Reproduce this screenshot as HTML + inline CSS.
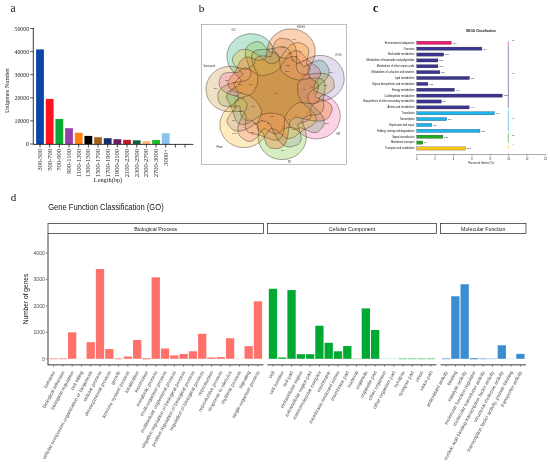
<!DOCTYPE html>
<html><head><meta charset="utf-8"><title>Figure</title>
<style>html,body{margin:0;padding:0;background:#fff}svg{display:block}text{white-space:pre}</style>
</head><body>
<svg width="550" height="467" viewBox="0 0 550 467">
<rect width="550" height="467" fill="#fff"/>
<g id="pb">
<rect x="201.5" y="24.3" width="145" height="140" fill="#fff" stroke="#888" stroke-width="0.55"/>
<path d="M237.9 37.4L239.1 36.7L240.4 36.1L241.6 35.6L242.9 35.1L244.3 34.7L245.6 34.4L247.0 34.1L248.3 33.8L249.8 33.7L251.2 33.7L252.7 33.8L254.1 33.9L255.6 34.2L257.0 34.5L258.5 34.8L259.9 35.3L261.4 35.9L262.8 36.6L264.2 37.4L265.6 38.3L267.0 39.4L268.3 40.6L269.6 42.0L270.9 43.6L272.1 45.5L273.2 47.5L274.3 50.1L275.3 52.4L276.1 54.0L276.9 55.3L277.7 55.9L278.4 56.5L279.2 56.9L279.9 57.1L280.7 57.4L281.4 57.6L282.1 57.8L282.8 58.0L283.6 58.1L284.3 58.2L285.1 58.3L285.8 58.3L286.6 58.4L287.3 58.4L288.2 58.2L289.2 57.6L290.3 57.0L291.3 56.7L292.3 56.5L293.2 56.4L294.1 56.5L294.8 56.8L295.6 57.2L296.3 57.6L297.0 58.1L297.7 58.5L298.3 59.1L298.8 59.7L299.4 60.4L299.8 61.1L300.3 61.8L300.8 62.5L301.2 63.2L301.6 63.9L302.0 64.6L302.4 65.3L302.8 66.0L303.3 66.5L304.2 66.7L306.9 65.3L310.0 63.6L313.3 62.0L316.1 60.9L318.6 60.2L320.2 60.3L321.5 60.6L322.8 61.1L323.9 61.6L324.8 62.4L325.5 63.2L326.1 64.1L326.7 65.1L327.3 66.0L327.8 66.9L328.4 67.9L328.8 68.9L329.0 70.0L329.1 71.2L329.0 72.4L328.9 73.5L328.6 74.8L328.1 76.0L327.4 77.3L326.5 78.6L325.4 79.9L324.1 81.2L322.8 82.5L321.5 83.7L320.3 84.8L319.0 85.9L317.6 86.9L316.1 87.9L314.7 88.8L313.5 89.6L312.4 90.4L311.3 91.1L310.4 91.8L309.7 92.5L309.3 93.1L308.8 93.7L308.4 94.3L308.1 94.9L307.9 95.4L307.8 96.0L307.8 96.6L307.8 97.2L307.9 97.8L308.0 98.4L308.1 99.0L308.2 99.7L308.4 100.3L308.5 101.0L309.0 101.8L310.0 102.7L310.9 103.6L311.8 104.7L312.8 105.7L314.0 106.9L315.4 108.2L317.0 109.8L318.8 111.4L320.2 113.0L321.4 114.6L322.5 116.2L323.3 117.7L323.8 119.1L324.2 120.5L324.3 121.9L324.2 123.0L324.0 124.2L323.6 125.2L323.2 126.3L322.6 127.2L321.9 128.1L321.1 128.9L320.4 129.7L319.6 130.5L318.7 131.2L317.9 131.9L316.7 132.4L315.4 132.6L313.8 132.5L312.2 132.4L310.3 131.8L308.1 130.8L306.2 129.9L304.4 129.2L302.7 128.4L301.2 127.9L300.2 127.9L299.4 128.1L298.6 128.5L297.8 128.8L297.0 129.1L296.2 129.3L295.3 129.5L294.4 129.5L293.4 129.4L292.1 128.5L290.6 127.0L288.9 124.7L287.2 122.1L285.6 119.5L284.5 117.8L283.6 116.8L282.9 116.1L282.3 115.7L281.7 115.3L281.1 115.0L280.6 114.8L280.1 114.6L279.6 114.4L279.2 114.3L278.7 114.3L278.3 114.2L277.8 114.1L277.4 114.0L277.0 113.9L276.5 113.9L276.1 113.8L275.7 113.7L275.3 113.6L274.9 113.5L274.4 113.5L274.0 113.4L273.6 113.3L273.2 113.3L272.8 113.2L272.4 113.2L271.9 113.1L271.5 113.1L271.1 113.1L270.6 113.1L270.2 113.1L269.7 113.1L269.2 113.2L268.8 113.2L268.3 113.3L267.8 113.4L267.2 113.5L266.7 113.5L266.1 113.7L265.5 113.8L264.9 113.9L264.3 114.0L263.6 114.2L262.9 114.3L262.2 114.5L261.5 114.7L260.5 115.1L258.9 116.4L257.2 117.5L255.5 118.6L253.7 119.8L251.6 121.1L249.3 122.5L247.3 123.4L245.6 124.0L243.9 124.4L242.5 124.5L241.3 124.3L240.2 124.1L239.1 123.8L238.2 123.3L237.5 122.6L237.0 121.9L236.4 121.1L236.0 120.3L235.5 119.4L235.1 118.6L234.7 117.8L234.5 116.9L234.2 115.9L234.0 115.0L233.8 114.1L233.5 113.3L233.2 112.4L232.9 111.6L232.6 110.7L232.3 109.9L232.0 109.1L231.7 108.2L231.3 107.4L231.0 106.6L230.5 105.8L230.1 105.0L229.7 104.2L229.3 103.4L228.7 102.6L228.2 101.7L227.7 100.9L227.4 100.0L227.2 99.1L227.0 98.2L226.8 97.3L226.8 96.4L226.8 95.4L227.0 94.5L227.4 93.6L227.9 92.7L228.4 91.8L229.4 91.0L230.6 90.2L231.9 89.4L233.1 88.7L234.3 88.1L235.5 87.4L236.4 86.8L237.2 86.2L237.9 85.6L238.5 85.0L239.0 84.3L239.4 83.7L239.8 83.1L240.1 82.4L240.5 81.8L240.8 81.2L241.1 80.5L240.9 79.7L239.2 78.2L238.3 77.0L237.3 75.7L235.5 73.9L233.4 72.0L231.9 70.1L230.6 68.3L229.5 66.6L228.7 64.9L228.1 63.2L227.6 61.6L227.3 60.1L227.1 58.5L227.0 57.0L227.0 55.5L227.1 54.1L227.3 52.7L227.6 51.3L228.0 49.9L228.4 48.6L228.9 47.3L229.5 46.1L230.2 44.9L231.0 43.8L231.9 42.8L232.8 41.8L233.7 40.8L234.7 39.9L235.7 39.0L236.8 38.1Z" fill="#30B9B0" fill-opacity="0.308"/>
<path d="M342.7 70.3L343.1 71.6L343.5 72.9L343.7 74.2L343.9 75.5L344.0 76.8L344.1 78.1L344.1 79.4L344.1 80.7L343.9 82.0L343.6 83.4L343.2 84.7L342.7 86.0L342.1 87.3L341.5 88.6L340.8 89.8L340.0 91.1L339.0 92.2L338.0 93.4L336.8 94.5L335.6 95.6L334.2 96.6L332.6 97.6L330.9 98.5L329.0 99.3L326.8 100.0L324.4 100.6L321.5 101.0L318.9 101.4L317.0 101.8L315.6 102.3L314.7 102.8L314.0 103.4L313.4 104.0L313.0 104.6L312.6 105.2L312.2 105.8L311.8 106.4L311.5 107.1L311.2 107.7L310.9 108.4L310.7 109.1L310.4 109.7L310.2 110.4L310.0 111.1L310.1 112.0L310.4 113.1L310.8 114.2L310.9 115.1L310.9 116.1L310.8 117.0L310.5 117.7L310.0 118.4L309.4 119.0L308.8 119.5L308.2 120.1L307.6 120.6L306.9 121.1L306.1 121.4L305.3 121.7L304.4 122.0L303.6 122.3L302.8 122.6L302.0 122.8L301.2 123.1L300.3 123.3L299.5 123.5L298.8 123.7L298.0 124.0L297.7 124.8L298.5 127.6L299.6 130.9L300.6 134.2L301.1 137.1L301.2 139.5L300.8 141.0L300.1 142.1L299.4 143.2L298.5 144.0L297.6 144.7L296.6 145.2L295.5 145.5L294.4 145.9L293.3 146.2L292.2 146.5L291.1 146.8L289.9 147.0L288.8 146.9L287.5 146.7L286.3 146.4L285.1 146.0L283.9 145.4L282.7 144.7L281.6 143.8L280.4 142.7L279.3 141.3L278.2 139.8L277.2 138.4L276.3 137.0L275.4 135.6L274.6 134.1L273.9 132.6L273.2 131.1L272.5 129.6L271.9 128.3L271.4 127.1L270.9 125.9L270.4 124.9L269.8 124.1L269.3 123.6L268.8 123.0L268.2 122.6L267.7 122.1L267.2 121.8L266.6 121.6L266.0 121.5L265.4 121.4L264.7 121.3L264.1 121.2L263.4 121.2L262.7 121.1L262.0 121.1L261.3 121.2L260.4 121.5L259.2 122.1L258.0 122.7L256.8 123.4L255.4 124.1L254.0 124.8L252.3 125.8L250.3 127.0L248.3 128.2L246.3 129.2L244.4 130.0L242.5 130.6L240.7 131.0L239.2 131.2L237.6 131.2L236.2 131.1L235.0 130.7L233.9 130.2L232.9 129.6L231.9 129.0L231.1 128.3L230.4 127.4L229.7 126.6L229.0 125.7L228.4 124.8L227.8 123.8L227.3 122.9L227.0 121.7L227.2 120.4L227.5 119.0L228.1 117.6L229.1 116.0L230.6 114.2L231.9 112.5L233.1 111.1L234.3 109.7L235.1 108.5L235.4 107.5L235.3 106.7L235.1 105.9L235.0 105.1L234.8 104.3L234.8 103.5L234.8 102.6L235.0 101.8L235.3 100.9L236.5 99.9L238.4 98.9L241.2 97.8L244.2 96.8L247.3 96.0L249.3 95.3L250.5 94.7L251.4 94.2L252.0 93.7L252.5 93.3L252.9 92.8L253.3 92.4L253.6 92.0L253.9 91.6L254.1 91.2L254.2 90.8L254.4 90.4L254.6 90.0L254.8 89.6L255.0 89.2L255.1 88.9L255.3 88.5L255.5 88.1L255.7 87.7L255.8 87.4L256.0 87.0L256.2 86.6L256.3 86.3L256.5 85.9L256.6 85.5L256.8 85.2L256.9 84.8L257.0 84.4L257.1 84.0L257.2 83.6L257.3 83.2L257.4 82.7L257.5 82.3L257.5 81.8L257.6 81.4L257.6 80.9L257.6 80.4L257.7 79.9L257.7 79.3L257.7 78.7L257.7 78.2L257.7 77.5L257.7 76.9L257.7 76.2L257.7 75.5L257.7 74.8L257.4 73.8L256.4 72.0L255.6 70.3L254.9 68.4L254.1 66.5L253.2 64.3L252.3 61.9L251.8 59.8L251.6 58.1L251.5 56.5L251.7 55.2L252.2 54.1L252.7 53.1L253.2 52.2L253.9 51.5L254.8 51.0L255.7 50.6L256.6 50.3L257.5 50.1L258.5 49.9L259.4 49.7L260.4 49.5L261.4 49.5L262.4 49.5L263.4 49.5L264.4 49.4L265.3 49.3L266.3 49.3L267.2 49.2L268.1 49.1L269.1 49.1L270.0 49.0L270.9 48.8L271.8 48.7L272.8 48.5L273.7 48.3L274.6 48.1L275.5 47.9L276.5 47.7L277.4 47.4L278.4 47.0L279.4 46.8L280.4 46.7L281.4 46.7L282.3 46.7L283.3 46.8L284.3 46.9L285.2 47.1L286.1 47.5L287.0 48.1L287.8 48.8L288.6 49.5L289.3 50.6L289.8 51.9L290.3 53.2L290.8 54.4L291.2 55.7L291.5 57.0L292.0 58.0L292.5 58.8L292.9 59.6L293.4 60.3L294.0 60.9L294.6 61.4L295.1 61.9L295.7 62.4L296.3 62.8L296.9 63.3L297.4 63.7L298.4 63.6L300.3 62.4L301.7 61.9L303.3 61.2L305.5 59.9L308.0 58.5L310.3 57.5L312.4 56.7L314.4 56.1L316.3 55.7L318.2 55.5L320.0 55.4L321.6 55.5L323.3 55.6L324.9 55.9L326.4 56.2L327.9 56.6L329.3 57.2L330.6 57.8L332.0 58.4L333.2 59.1L334.5 59.9L335.6 60.7L336.6 61.6L337.6 62.6L338.5 63.6L339.3 64.6L340.1 65.7L340.9 66.8L341.6 68.0L342.2 69.1Z" fill="#A299FF" fill-opacity="0.308"/>
<path d="M285.4 159.4L284.0 159.5L282.6 159.6L281.2 159.5L279.8 159.4L278.4 159.2L277.1 159.0L275.7 158.7L274.3 158.4L273.0 157.9L271.7 157.3L270.4 156.7L269.2 155.9L268.0 155.1L266.8 154.2L265.7 153.3L264.6 152.3L263.6 151.2L262.6 149.9L261.7 148.6L260.9 147.2L260.1 145.7L259.5 144.1L258.9 142.3L258.5 140.3L258.3 138.2L258.2 135.8L258.4 133.1L258.6 130.6L258.6 128.8L258.4 127.4L258.1 126.4L257.6 125.7L257.1 125.0L256.6 124.4L256.1 123.9L255.5 123.4L254.9 122.9L254.4 122.5L253.8 122.1L253.1 121.7L252.5 121.3L251.8 121.0L251.2 120.6L250.5 120.2L249.6 120.1L248.4 120.2L247.2 120.3L246.2 120.2L245.2 120.0L244.3 119.7L243.6 119.2L243.0 118.6L242.6 118.0L242.1 117.3L241.7 116.6L241.3 115.9L241.0 115.2L240.7 114.4L240.6 113.5L240.5 112.7L240.4 111.9L240.3 111.1L240.2 110.3L240.2 109.5L240.1 108.7L240.1 107.9L240.0 107.1L239.9 106.4L239.2 105.9L236.1 106.1L232.4 106.3L228.8 106.4L225.7 106.3L223.2 105.9L221.8 105.1L220.7 104.3L219.8 103.4L219.1 102.4L218.6 101.4L218.3 100.3L218.2 99.2L218.1 98.1L218.0 97.1L217.9 96.0L217.9 94.9L218.0 93.8L218.3 92.7L218.8 91.7L219.4 90.6L220.0 89.6L220.9 88.6L221.9 87.7L223.1 86.8L224.5 86.0L226.1 85.3L227.9 84.6L229.6 84.0L231.3 83.5L233.0 83.0L234.6 82.6L236.3 82.2L238.1 81.9L239.8 81.7L241.3 81.4L242.6 81.2L243.9 80.9L245.1 80.7L246.0 80.4L246.7 80.0L247.4 79.7L248.0 79.3L248.5 78.9L249.0 78.5L249.3 78.0L249.6 77.4L249.9 76.9L250.1 76.3L250.3 75.8L250.5 75.2L250.7 74.5L250.8 73.9L251.0 73.2L250.9 72.3L250.5 71.1L250.1 69.9L249.7 68.6L249.3 67.2L248.8 65.6L248.2 63.9L247.4 61.8L246.6 59.6L246.0 57.6L245.6 55.7L245.4 53.8L245.4 52.1L245.6 50.6L245.9 49.2L246.3 47.9L247.0 46.9L247.7 46.0L248.5 45.2L249.4 44.4L250.4 43.8L251.4 43.3L252.5 42.9L253.5 42.5L254.6 42.1L255.7 41.8L256.8 41.5L258.0 41.6L259.3 42.0L260.7 42.6L262.1 43.4L263.5 44.7L265.0 46.5L266.4 48.1L267.7 49.5L268.9 50.9L269.9 51.9L270.9 52.4L271.7 52.5L272.6 52.5L273.4 52.5L274.3 52.6L275.2 52.8L276.0 53.0L276.8 53.3L277.7 53.8L278.4 55.1L279.1 57.1L279.6 59.9L279.9 62.9L280.1 65.9L280.4 67.9L280.7 69.1L281.1 70.1L281.4 70.7L281.8 71.3L282.1 71.8L282.5 72.2L282.8 72.6L283.2 72.9L283.6 73.2L283.9 73.5L284.3 73.7L284.7 74.0L285.0 74.2L285.4 74.5L285.7 74.7L286.1 75.0L286.4 75.2L286.8 75.5L287.1 75.7L287.4 75.9L287.8 76.2L288.1 76.4L288.5 76.6L288.8 76.8L289.2 77.1L289.5 77.3L289.9 77.5L290.3 77.6L290.7 77.8L291.1 78.0L291.5 78.2L292.0 78.3L292.4 78.5L292.9 78.6L293.4 78.8L293.9 78.9L294.5 79.0L295.0 79.2L295.6 79.3L296.2 79.4L296.8 79.6L297.5 79.7L298.2 79.9L298.9 80.0L299.6 80.2L300.8 80.1L302.8 79.7L304.8 79.3L306.9 79.0L309.0 78.7L311.5 78.4L314.2 78.1L316.4 78.1L318.3 78.3L319.9 78.6L321.3 79.1L322.3 79.7L323.2 80.4L324.0 81.1L324.6 81.9L324.9 82.8L325.1 83.7L325.2 84.6L325.2 85.6L325.2 86.5L325.2 87.4L325.2 88.3L325.0 89.3L324.8 90.2L324.6 91.1L324.4 92.0L324.3 92.9L324.1 93.8L324.0 94.6L323.9 95.5L323.7 96.4L323.6 97.3L323.5 98.1L323.5 99.0L323.5 99.9L323.5 100.8L323.5 101.7L323.5 102.6L323.5 103.5L323.6 104.5L323.7 105.5L323.8 106.4L323.7 107.3L323.4 108.2L323.2 109.1L322.9 110.0L322.5 110.9L322.1 111.7L321.5 112.4L320.7 113.1L319.9 113.7L318.9 114.3L317.7 114.6L316.2 114.9L314.7 115.0L313.3 115.2L311.9 115.2L310.5 115.3L309.4 115.5L308.5 115.8L307.5 116.0L306.7 116.3L306.0 116.7L305.3 117.1L304.7 117.5L304.1 117.9L303.5 118.4L302.9 118.8L302.3 119.3L302.2 120.1L303.0 122.1L303.2 123.6L303.5 125.2L304.4 127.5L305.3 130.1L305.9 132.4L306.2 134.6L306.4 136.6L306.3 138.4L306.1 140.2L305.8 141.8L305.4 143.3L304.9 144.8L304.3 146.2L303.6 147.6L302.8 148.8L301.9 150.0L301.0 151.1L300.1 152.2L299.1 153.2L298.0 154.2L296.9 155.0L295.7 155.8L294.5 156.5L293.3 157.0L292.0 157.6L290.7 158.1L289.4 158.5L288.1 158.9L286.7 159.2Z" fill="#81CD6A" fill-opacity="0.308"/>
<path d="M206.1 86.8L206.3 85.5L206.6 84.2L206.9 83.0L207.4 81.7L207.9 80.5L208.4 79.3L209.0 78.1L209.6 76.9L210.4 75.8L211.3 74.7L212.3 73.7L213.3 72.7L214.4 71.8L215.6 70.9L216.8 70.1L218.1 69.3L219.5 68.6L221.0 68.0L222.5 67.5L224.2 67.0L225.9 66.7L227.7 66.4L229.7 66.3L231.8 66.4L234.1 66.7L236.5 67.1L239.3 67.9L241.8 68.6L243.7 69.0L245.2 69.2L246.3 69.0L247.2 68.8L247.9 68.5L248.6 68.2L249.3 67.8L249.9 67.4L250.6 67.0L251.1 66.5L251.7 66.0L252.2 65.6L252.8 65.1L253.3 64.6L253.8 64.0L254.3 63.5L254.7 62.7L254.8 61.6L255.0 60.4L255.4 59.5L255.8 58.6L256.3 57.9L256.9 57.3L257.7 57.0L258.5 56.7L259.3 56.4L260.1 56.1L260.9 55.9L261.7 55.8L262.6 55.8L263.5 55.9L264.4 55.9L265.2 56.0L266.1 56.1L266.9 56.2L267.8 56.3L268.6 56.5L269.4 56.6L270.2 56.7L271.0 56.8L271.7 56.2L272.2 53.4L272.7 50.0L273.4 46.6L274.3 43.8L275.3 41.5L276.3 40.4L277.5 39.6L278.6 39.0L279.8 38.5L280.9 38.3L282.1 38.3L283.2 38.4L284.4 38.6L285.5 38.7L286.6 38.9L287.8 39.1L288.9 39.4L289.9 39.9L290.9 40.6L291.8 41.4L292.7 42.3L293.6 43.2L294.3 44.4L295.0 45.7L295.5 47.1L295.9 48.8L296.1 50.6L296.4 52.3L296.6 54.0L296.7 55.6L296.8 57.3L296.8 58.9L296.7 60.6L296.5 62.2L296.5 63.6L296.4 64.9L296.4 66.2L296.4 67.3L296.5 68.2L296.7 68.9L296.9 69.6L297.2 70.3L297.5 70.9L297.8 71.4L298.3 71.8L298.7 72.2L299.2 72.5L299.8 72.9L300.3 73.2L300.9 73.5L301.5 73.8L302.2 74.1L302.8 74.4L303.8 74.5L305.1 74.4L306.5 74.3L307.9 74.2L309.4 74.2L311.1 74.1L313.1 73.9L315.4 73.6L317.8 73.3L320.0 73.3L322.1 73.4L324.1 73.6L325.9 73.9L327.4 74.4L328.8 75.0L329.9 75.7L330.9 76.5L331.6 77.4L332.3 78.4L332.9 79.3L333.3 80.4L333.6 81.4L333.8 82.5L334.0 83.5L334.1 84.6L334.2 85.7L334.3 86.8L333.9 87.9L333.2 89.0L332.2 90.1L331.1 91.2L329.5 92.3L327.2 93.3L325.3 94.2L323.6 95.0L321.9 95.8L320.6 96.5L319.8 97.3L319.6 98.1L319.4 98.9L319.2 99.7L318.9 100.4L318.6 101.2L318.1 101.9L317.6 102.6L316.9 103.2L315.4 103.6L313.2 103.8L310.2 103.6L307.0 103.3L303.8 102.8L301.8 102.6L300.4 102.7L299.3 102.7L298.6 102.9L297.9 103.1L297.3 103.3L296.8 103.6L296.3 103.8L295.9 104.1L295.6 104.4L295.2 104.6L294.9 104.9L294.5 105.2L294.2 105.5L293.8 105.7L293.5 106.0L293.2 106.3L292.9 106.5L292.5 106.8L292.2 107.1L291.9 107.3L291.6 107.6L291.3 107.9L290.9 108.1L290.6 108.4L290.3 108.7L290.0 109.0L289.8 109.3L289.5 109.6L289.2 109.9L288.9 110.2L288.7 110.6L288.4 111.0L288.1 111.4L287.9 111.8L287.6 112.2L287.4 112.6L287.1 113.1L286.8 113.6L286.6 114.1L286.3 114.6L286.0 115.2L285.7 115.7L285.4 116.3L285.1 117.0L284.8 117.6L284.6 118.7L284.6 120.6L284.5 122.6L284.4 124.5L284.2 126.6L284.0 129.0L283.7 131.5L283.2 133.5L282.6 135.2L281.9 136.6L281.1 137.8L280.2 138.5L279.3 139.2L278.4 139.8L277.4 140.2L276.4 140.3L275.5 140.2L274.5 140.1L273.5 140.0L272.6 139.8L271.6 139.6L270.7 139.3L269.8 138.9L268.9 138.5L268.0 138.1L267.1 137.8L266.2 137.4L265.3 137.1L264.4 136.8L263.5 136.5L262.7 136.2L261.8 135.9L260.9 135.6L260.0 135.4L259.1 135.1L258.2 134.9L257.2 134.7L256.3 134.5L255.4 134.3L254.4 134.2L253.3 134.2L252.3 134.0L251.4 133.7L250.5 133.3L249.6 132.8L248.8 132.4L248.0 131.9L247.2 131.3L246.6 130.5L246.1 129.7L245.6 128.7L245.3 127.8L245.2 126.5L245.3 125.1L245.4 123.8L245.6 122.4L245.8 121.1L246.1 119.8L246.1 118.8L246.1 117.8L246.0 116.9L245.9 116.1L245.7 115.3L245.4 114.6L245.1 113.9L244.8 113.3L244.5 112.6L244.2 112.0L243.8 111.4L242.9 111.0L240.7 111.3L239.2 111.3L237.4 111.2L234.8 111.4L231.9 111.7L229.4 111.7L227.1 111.6L225.0 111.2L223.1 110.8L221.4 110.2L219.8 109.6L218.3 108.8L216.9 108.0L215.5 107.2L214.3 106.2L213.2 105.2L212.2 104.2L211.2 103.1L210.3 102.0L209.5 100.8L208.7 99.7L208.1 98.4L207.5 97.2L207.1 95.9L206.8 94.7L206.5 93.4L206.3 92.1L206.1 90.8L206.0 89.4L206.0 88.1Z" fill="#D3A27C" fill-opacity="0.308"/>
<path d="M336.8 127.9L336.0 129.0L335.1 130.1L334.2 131.0L333.3 132.0L332.3 132.9L331.2 133.8L330.1 134.6L329.0 135.4L327.8 136.1L326.5 136.7L325.2 137.2L323.8 137.7L322.3 138.1L320.9 138.4L319.4 138.7L317.9 138.8L316.3 138.9L314.7 138.8L313.0 138.6L311.4 138.4L309.7 138.0L307.9 137.4L306.1 136.7L304.2 135.8L302.3 134.6L300.3 133.2L298.1 131.3L296.2 129.7L294.7 128.6L293.4 127.8L292.4 127.5L291.5 127.3L290.6 127.3L289.9 127.3L289.1 127.4L288.3 127.5L287.6 127.6L286.8 127.8L286.1 128.0L285.4 128.2L284.7 128.4L284.0 128.7L283.3 128.9L282.6 129.2L281.9 129.8L281.2 130.7L280.6 131.7L279.8 132.3L279.0 133.0L278.2 133.5L277.4 133.7L276.6 133.7L275.7 133.6L274.9 133.6L274.0 133.5L273.2 133.3L272.4 133.1L271.6 132.7L270.8 132.3L270.1 131.9L269.3 131.4L268.6 131.0L267.9 130.6L267.2 130.1L266.5 129.6L265.8 129.2L265.2 128.8L264.5 128.4L263.6 128.6L261.8 131.0L259.8 133.9L257.6 136.6L255.5 138.8L253.6 140.4L252.1 141.0L250.8 141.2L249.4 141.3L248.2 141.3L247.0 141.0L246.0 140.5L245.0 139.9L244.1 139.4L243.1 138.7L242.2 138.1L241.2 137.5L240.4 136.7L239.7 135.8L239.1 134.8L238.6 133.7L238.2 132.6L237.9 131.4L237.8 130.0L237.8 128.6L238.0 127.1L238.4 125.4L239.0 123.7L239.6 122.0L240.2 120.5L240.8 118.9L241.5 117.4L242.2 115.9L243.1 114.5L244.0 113.1L244.7 111.8L245.3 110.7L245.9 109.6L246.4 108.6L246.8 107.7L246.9 106.9L247.0 106.2L247.1 105.5L247.1 104.9L247.0 104.3L246.8 103.7L246.6 103.2L246.3 102.7L246.0 102.1L245.6 101.6L245.2 101.1L244.8 100.6L244.4 100.1L243.9 99.5L243.1 99.0L241.8 98.6L240.6 98.1L239.3 97.6L237.9 97.0L236.3 96.4L234.4 95.8L232.2 95.1L229.9 94.3L227.9 93.5L226.1 92.5L224.3 91.6L222.9 90.5L221.8 89.4L220.8 88.3L220.1 87.2L219.6 86.1L219.4 85.0L219.2 83.9L219.1 82.8L219.2 81.7L219.4 80.6L219.7 79.6L220.1 78.5L220.4 77.5L220.8 76.5L221.3 75.5L222.1 74.6L223.2 73.9L224.6 73.3L226.2 72.8L228.1 72.5L230.6 72.5L232.7 72.5L234.7 72.4L236.6 72.4L238.1 72.3L239.1 71.9L239.7 71.3L240.2 70.7L240.8 70.1L241.4 69.5L242.0 68.9L242.7 68.4L243.5 68.0L244.5 67.7L246.0 68.0L248.1 68.8L250.7 70.1L253.4 71.8L256.1 73.5L257.8 74.5L259.1 75.1L260.1 75.4L260.8 75.5L261.5 75.6L262.2 75.7L262.7 75.7L263.3 75.7L263.8 75.6L264.2 75.5L264.7 75.4L265.1 75.3L265.5 75.2L266.0 75.0L266.4 74.9L266.8 74.8L267.2 74.7L267.7 74.6L268.1 74.5L268.5 74.4L268.9 74.3L269.3 74.2L269.7 74.1L270.1 74.0L270.5 73.9L270.9 73.7L271.3 73.6L271.7 73.4L272.1 73.3L272.5 73.1L272.9 72.9L273.3 72.7L273.7 72.5L274.1 72.2L274.5 72.0L275.0 71.7L275.4 71.4L275.8 71.1L276.3 70.8L276.8 70.4L277.3 70.0L277.8 69.7L278.3 69.3L278.9 68.8L279.4 68.4L280.0 67.9L280.7 67.1L281.6 65.3L282.5 63.6L283.6 61.9L284.7 60.1L286.0 58.1L287.4 55.9L288.8 54.3L290.1 53.0L291.4 52.0L292.6 51.3L293.8 51.0L294.9 50.7L296.0 50.6L297.0 50.7L297.9 51.0L298.8 51.4L299.6 51.9L300.4 52.4L301.2 53.0L302.0 53.6L302.7 54.2L303.4 54.9L304.0 55.6L304.6 56.4L305.2 57.1L305.9 57.7L306.5 58.4L307.2 59.0L307.8 59.7L308.5 60.3L309.1 60.9L309.8 61.5L310.5 62.1L311.2 62.7L312.0 63.2L312.7 63.8L313.4 64.4L314.2 64.9L315.1 65.4L316.0 65.9L316.8 66.5L317.5 67.2L318.1 67.9L318.7 68.6L319.2 69.4L319.7 70.2L320.1 71.0L320.4 72.0L320.4 72.9L320.4 74.0L320.3 75.0L319.8 76.1L319.1 77.4L318.3 78.5L317.5 79.7L316.7 80.8L315.9 81.8L315.4 82.8L315.0 83.6L314.6 84.5L314.4 85.3L314.2 86.1L314.2 86.8L314.1 87.5L314.1 88.2L314.0 89.0L314.0 89.7L314.0 90.4L314.7 91.0L316.8 91.7L318.2 92.4L319.7 93.1L322.2 94.0L324.9 94.9L327.2 95.9L329.2 97.0L330.9 98.2L332.4 99.4L333.8 100.6L334.9 101.8L335.9 103.1L336.8 104.4L337.6 105.8L338.3 107.1L338.9 108.5L339.3 109.8L339.6 111.2L339.9 112.5L340.2 113.9L340.3 115.3L340.3 116.7L340.2 118.0L340.0 119.3L339.7 120.6L339.4 121.9L339.0 123.1L338.5 124.4L338.0 125.6L337.4 126.8Z" fill="#FA78E4" fill-opacity="0.308"/>
<path d="M227.2 141.1L226.3 140.2L225.4 139.2L224.5 138.1L223.8 137.0L223.1 135.9L222.4 134.7L221.8 133.6L221.2 132.4L220.8 131.1L220.4 129.8L220.2 128.4L220.0 127.0L220.0 125.6L219.9 124.2L220.0 122.8L220.2 121.4L220.5 119.9L220.9 118.4L221.4 116.9L222.0 115.5L222.8 114.0L223.8 112.5L224.9 111.0L226.3 109.4L228.0 107.9L229.9 106.4L232.3 104.8L234.4 103.4L235.9 102.3L237.0 101.3L237.5 100.4L237.9 99.6L238.1 98.8L238.3 98.1L238.3 97.4L238.4 96.7L238.5 95.9L238.5 95.2L238.4 94.5L238.4 93.8L238.3 93.1L238.2 92.4L238.1 91.7L237.9 91.0L237.5 90.2L236.7 89.4L235.8 88.6L235.3 87.8L234.9 86.9L234.5 86.0L234.5 85.2L234.7 84.5L234.9 83.7L235.1 82.9L235.4 82.2L235.8 81.5L236.2 80.8L236.7 80.1L237.3 79.5L238.0 78.9L238.6 78.3L239.2 77.7L239.8 77.2L240.4 76.6L241.1 76.1L241.7 75.6L242.3 75.1L242.8 74.5L242.8 73.6L240.7 71.5L238.2 69.0L235.8 66.4L234.0 64.0L232.8 61.8L232.5 60.3L232.6 59.0L232.8 57.8L233.1 56.7L233.7 55.7L234.4 54.8L235.2 54.1L236.0 53.3L236.9 52.6L237.7 51.8L238.6 51.1L239.5 50.5L240.6 50.1L241.8 49.8L243.1 49.6L244.3 49.4L245.7 49.4L247.1 49.6L248.5 49.9L250.1 50.4L251.7 51.2L253.3 52.1L254.9 53.0L256.4 53.9L257.8 54.8L259.2 55.8L260.6 56.8L261.9 58.0L263.2 59.1L264.3 60.0L265.4 60.8L266.4 61.6L267.3 62.3L268.1 62.8L268.9 63.1L269.6 63.4L270.3 63.6L271.0 63.8L271.6 63.8L272.2 63.8L272.8 63.7L273.4 63.5L274.1 63.3L274.7 63.1L275.3 62.9L275.9 62.6L276.6 62.3L277.2 62.0L277.9 61.4L278.6 60.3L279.4 59.3L280.2 58.2L281.1 57.0L282.1 55.7L283.2 54.1L284.4 52.2L285.7 50.3L287.0 48.6L288.4 47.1L289.8 45.8L291.2 44.7L292.5 43.9L293.9 43.3L295.2 42.8L296.5 42.7L297.7 42.7L298.9 42.7L300.0 42.9L301.1 43.2L302.2 43.7L303.2 44.2L304.2 44.7L305.2 45.3L306.1 45.9L307.1 46.5L307.8 47.5L308.3 48.7L308.6 50.1L308.8 51.6L308.6 53.5L308.1 55.8L307.6 57.8L307.2 59.6L306.8 61.3L306.6 62.7L306.8 63.7L307.3 64.4L307.8 65.1L308.3 65.7L308.8 66.4L309.2 67.1L309.6 67.9L309.8 68.7L309.9 69.6L309.3 71.0L308.0 72.7L306.1 74.8L303.8 76.9L301.4 79.0L300.0 80.4L299.1 81.4L298.5 82.3L298.2 82.9L298.0 83.5L297.8 84.1L297.6 84.6L297.5 85.1L297.5 85.6L297.5 86.1L297.5 86.5L297.5 86.9L297.6 87.3L297.6 87.8L297.6 88.2L297.6 88.6L297.6 89.0L297.6 89.4L297.6 89.8L297.7 90.2L297.7 90.6L297.7 91.0L297.7 91.4L297.7 91.8L297.8 92.2L297.8 92.6L297.9 93.0L298.0 93.4L298.0 93.8L298.1 94.2L298.3 94.6L298.4 95.0L298.5 95.5L298.7 95.9L298.9 96.3L299.0 96.8L299.3 97.3L299.5 97.7L299.7 98.2L300.0 98.7L300.2 99.3L300.5 99.8L300.8 100.4L301.1 101.0L301.4 101.6L301.8 102.3L302.5 103.1L304.2 104.3L305.7 105.6L307.2 106.9L308.8 108.3L310.6 110.0L312.6 111.8L314.0 113.4L315.0 114.9L315.7 116.3L316.1 117.6L316.3 118.7L316.3 119.8L316.2 120.8L315.9 121.8L315.3 122.5L314.7 123.2L314.0 123.9L313.3 124.5L312.5 125.1L311.7 125.7L310.9 126.2L310.1 126.7L309.2 127.1L308.3 127.5L307.4 127.9L306.6 128.4L305.8 128.8L305.0 129.3L304.1 129.7L303.3 130.2L302.6 130.6L301.8 131.1L301.0 131.6L300.3 132.2L299.5 132.7L298.8 133.3L298.0 133.8L297.3 134.4L296.6 135.1L295.8 135.8L295.1 136.5L294.2 136.9L293.4 137.3L292.5 137.7L291.5 138.0L290.6 138.3L289.7 138.5L288.7 138.5L287.6 138.4L286.6 138.1L285.5 137.8L284.5 137.1L283.4 136.1L282.3 135.1L281.3 134.2L280.4 133.2L279.5 132.2L278.6 131.5L277.8 131.0L277.0 130.4L276.2 130.0L275.5 129.7L274.7 129.5L274.0 129.3L273.2 129.1L272.5 128.9L271.8 128.7L271.0 128.6L270.2 129.0L269.1 130.9L268.1 132.0L266.9 133.2L265.5 135.3L263.9 137.6L262.4 139.4L260.8 141.0L259.2 142.4L257.7 143.5L256.1 144.5L254.6 145.2L253.0 145.9L251.5 146.4L249.9 146.9L248.4 147.2L246.9 147.4L245.4 147.5L243.9 147.5L242.4 147.5L240.9 147.4L239.5 147.2L238.1 146.9L236.7 146.5L235.4 146.1L234.1 145.5L232.9 144.9L231.7 144.3L230.5 143.6L229.3 142.8L228.2 142.0Z" fill="#FDC359" fill-opacity="0.308"/>
<path d="M298.7 30.1L300.0 30.5L301.3 31.1L302.5 31.7L303.7 32.4L304.9 33.1L306.0 33.8L307.1 34.6L308.2 35.5L309.2 36.5L310.1 37.5L310.9 38.7L311.7 39.8L312.4 41.1L313.1 42.3L313.7 43.6L314.2 45.0L314.6 46.4L314.9 47.9L315.1 49.5L315.2 51.1L315.2 52.7L315.0 54.5L314.6 56.3L314.1 58.2L313.3 60.3L312.3 62.4L310.9 64.8L309.6 67.0L308.7 68.6L308.2 70.0L308.2 71.0L308.2 71.8L308.3 72.6L308.6 73.3L308.8 74.0L309.1 74.7L309.4 75.4L309.7 76.0L310.0 76.6L310.4 77.2L310.8 77.8L311.2 78.4L311.7 79.0L312.1 79.6L312.9 80.1L314.0 80.5L315.1 80.9L316.0 81.5L316.8 82.0L317.5 82.7L317.9 83.4L318.1 84.2L318.2 84.9L318.3 85.7L318.4 86.5L318.5 87.3L318.4 88.1L318.2 88.9L317.9 89.7L317.7 90.5L317.4 91.3L317.1 92.1L316.8 92.8L316.5 93.6L316.1 94.3L315.8 95.0L315.5 95.8L315.3 96.5L315.7 97.2L318.6 98.3L322.0 99.6L325.3 101.0L328.0 102.4L330.1 103.8L331.1 105.0L331.6 106.2L332.0 107.4L332.2 108.6L332.2 109.7L331.9 110.8L331.6 111.8L331.2 112.8L330.7 113.8L330.3 114.8L329.8 115.8L329.3 116.8L328.5 117.6L327.6 118.4L326.5 119.1L325.5 119.7L324.3 120.2L322.9 120.7L321.4 121.0L319.8 121.1L318.0 121.1L316.1 121.0L314.3 120.8L312.5 120.6L310.8 120.4L309.1 120.1L307.4 119.7L305.7 119.2L304.0 118.8L302.6 118.4L301.2 118.1L300.0 117.7L298.8 117.5L297.9 117.4L297.1 117.4L296.3 117.5L295.6 117.6L294.9 117.7L294.3 117.9L293.7 118.2L293.2 118.5L292.8 118.9L292.3 119.3L291.8 119.8L291.4 120.2L290.9 120.7L290.5 121.3L290.1 121.8L289.7 122.7L289.6 123.9L289.3 125.2L289.1 126.5L288.8 127.9L288.6 129.5L288.3 131.4L288.1 133.6L287.8 135.9L287.4 137.9L286.8 139.8L286.2 141.6L285.4 143.2L284.6 144.4L283.6 145.5L282.6 146.5L281.6 147.1L280.5 147.6L279.4 148.1L278.3 148.4L277.1 148.5L276.0 148.5L274.8 148.5L273.7 148.4L272.5 148.3L271.4 148.2L270.3 148.0L269.2 147.4L268.2 146.5L267.2 145.4L266.4 144.1L265.7 142.4L265.1 140.1L264.6 138.1L264.1 136.3L263.7 134.6L263.2 133.2L262.6 132.4L261.8 132.0L261.1 131.6L260.3 131.2L259.6 130.8L258.9 130.3L258.2 129.8L257.6 129.2L257.1 128.4L257.1 126.9L257.4 124.8L258.2 122.1L259.3 119.2L260.5 116.4L261.1 114.6L261.4 113.3L261.5 112.3L261.5 111.6L261.5 110.9L261.4 110.3L261.2 109.8L261.1 109.3L260.9 108.9L260.7 108.5L260.5 108.1L260.3 107.7L260.1 107.3L259.9 107.0L259.7 106.6L259.5 106.2L259.3 105.9L259.1 105.5L258.9 105.1L258.7 104.8L258.5 104.4L258.3 104.1L258.1 103.7L257.9 103.4L257.6 103.0L257.4 102.7L257.2 102.4L256.9 102.0L256.7 101.7L256.4 101.4L256.1 101.1L255.8 100.7L255.5 100.4L255.1 100.1L254.8 99.8L254.4 99.4L254.0 99.1L253.6 98.8L253.1 98.4L252.7 98.0L252.2 97.7L251.7 97.3L251.1 96.9L250.6 96.5L250.0 96.1L249.4 95.6L248.4 95.2L246.3 94.8L244.4 94.3L242.4 93.7L240.3 93.0L237.9 92.3L235.3 91.5L233.3 90.6L231.7 89.7L230.4 88.7L229.4 87.7L228.8 86.7L228.3 85.8L227.9 84.8L227.8 83.8L227.9 82.9L228.1 82.0L228.5 81.1L228.8 80.3L229.3 79.4L229.7 78.6L230.2 77.8L230.7 77.0L231.4 76.3L232.0 75.6L232.6 74.8L233.1 74.1L233.6 73.3L234.1 72.6L234.7 71.9L235.2 71.1L235.7 70.4L236.2 69.6L236.6 68.9L237.0 68.1L237.4 67.3L237.9 66.5L238.3 65.6L238.7 64.8L239.0 63.9L239.3 63.0L239.7 62.1L240.3 61.3L240.9 60.6L241.5 59.9L242.2 59.2L242.9 58.6L243.7 58.0L244.6 57.6L245.6 57.3L246.6 57.1L247.7 57.0L249.0 57.2L250.4 57.6L251.8 58.0L253.2 58.5L254.5 59.0L255.8 59.5L256.8 59.8L257.8 59.9L258.8 60.1L259.7 60.1L260.5 60.1L261.3 60.0L262.0 59.9L262.8 59.8L263.5 59.6L264.3 59.5L265.0 59.3L265.5 58.6L265.7 56.5L266.1 55.0L266.6 53.5L266.9 51.0L267.3 48.3L267.8 46.0L268.5 43.9L269.3 42.0L270.2 40.4L271.2 38.9L272.2 37.6L273.3 36.3L274.4 35.2L275.6 34.2L276.9 33.3L278.1 32.4L279.5 31.8L280.8 31.1L282.1 30.5L283.5 30.0L284.9 29.6L286.3 29.3L287.7 29.1L289.1 29.0L290.5 29.0L291.9 29.0L293.3 29.1L294.7 29.2L296.0 29.4L297.4 29.7Z" fill="#F47136" fill-opacity="0.308"/>
<path d="M237.9 37.4L239.1 36.7L240.4 36.1L241.6 35.6L242.9 35.1L244.3 34.7L245.6 34.4L247.0 34.1L248.3 33.8L249.8 33.7L251.2 33.7L252.7 33.8L254.1 33.9L255.6 34.2L257.0 34.5L258.5 34.8L259.9 35.3L261.4 35.9L262.8 36.6L264.2 37.4L265.6 38.3L267.0 39.4L268.3 40.6L269.6 42.0L270.9 43.6L272.1 45.5L273.2 47.5L274.3 50.1L275.3 52.4L276.1 54.0L276.9 55.3L277.7 55.9L278.4 56.5L279.2 56.9L279.9 57.1L280.7 57.4L281.4 57.6L282.1 57.8L282.8 58.0L283.6 58.1L284.3 58.2L285.1 58.3L285.8 58.3L286.6 58.4L287.3 58.4L288.2 58.2L289.2 57.6L290.3 57.0L291.3 56.7L292.3 56.5L293.2 56.4L294.1 56.5L294.8 56.8L295.6 57.2L296.3 57.6L297.0 58.1L297.7 58.5L298.3 59.1L298.8 59.7L299.4 60.4L299.8 61.1L300.3 61.8L300.8 62.5L301.2 63.2L301.6 63.9L302.0 64.6L302.4 65.3L302.8 66.0L303.3 66.5L304.2 66.7L306.9 65.3L310.0 63.6L313.3 62.0L316.1 60.9L318.6 60.2L320.2 60.3L321.5 60.6L322.8 61.1L323.9 61.6L324.8 62.4L325.5 63.2L326.1 64.1L326.7 65.1L327.3 66.0L327.8 66.9L328.4 67.9L328.8 68.9L329.0 70.0L329.1 71.2L329.0 72.4L328.9 73.5L328.6 74.8L328.1 76.0L327.4 77.3L326.5 78.6L325.4 79.9L324.1 81.2L322.8 82.5L321.5 83.7L320.3 84.8L319.0 85.9L317.6 86.9L316.1 87.9L314.7 88.8L313.5 89.6L312.4 90.4L311.3 91.1L310.4 91.8L309.7 92.5L309.3 93.1L308.8 93.7L308.4 94.3L308.1 94.9L307.9 95.4L307.8 96.0L307.8 96.6L307.8 97.2L307.9 97.8L308.0 98.4L308.1 99.0L308.2 99.7L308.4 100.3L308.5 101.0L309.0 101.8L310.0 102.7L310.9 103.6L311.8 104.7L312.8 105.7L314.0 106.9L315.4 108.2L317.0 109.8L318.8 111.4L320.2 113.0L321.4 114.6L322.5 116.2L323.3 117.7L323.8 119.1L324.2 120.5L324.3 121.9L324.2 123.0L324.0 124.2L323.6 125.2L323.2 126.3L322.6 127.2L321.9 128.1L321.1 128.9L320.4 129.7L319.6 130.5L318.7 131.2L317.9 131.9L316.7 132.4L315.4 132.6L313.8 132.5L312.2 132.4L310.3 131.8L308.1 130.8L306.2 129.9L304.4 129.2L302.7 128.4L301.2 127.9L300.2 127.9L299.4 128.1L298.6 128.5L297.8 128.8L297.0 129.1L296.2 129.3L295.3 129.5L294.4 129.5L293.4 129.4L292.1 128.5L290.6 127.0L288.9 124.7L287.2 122.1L285.6 119.5L284.5 117.8L283.6 116.8L282.9 116.1L282.3 115.7L281.7 115.3L281.1 115.0L280.6 114.8L280.1 114.6L279.6 114.4L279.2 114.3L278.7 114.3L278.3 114.2L277.8 114.1L277.4 114.0L277.0 113.9L276.5 113.9L276.1 113.8L275.7 113.7L275.3 113.6L274.9 113.5L274.4 113.5L274.0 113.4L273.6 113.3L273.2 113.3L272.8 113.2L272.4 113.2L271.9 113.1L271.5 113.1L271.1 113.1L270.6 113.1L270.2 113.1L269.7 113.1L269.2 113.2L268.8 113.2L268.3 113.3L267.8 113.4L267.2 113.5L266.7 113.5L266.1 113.7L265.5 113.8L264.9 113.9L264.3 114.0L263.6 114.2L262.9 114.3L262.2 114.5L261.5 114.7L260.5 115.1L258.9 116.4L257.2 117.5L255.5 118.6L253.7 119.8L251.6 121.1L249.3 122.5L247.3 123.4L245.6 124.0L243.9 124.4L242.5 124.5L241.3 124.3L240.2 124.1L239.1 123.8L238.2 123.3L237.5 122.6L237.0 121.9L236.4 121.1L236.0 120.3L235.5 119.4L235.1 118.6L234.7 117.8L234.5 116.9L234.2 115.9L234.0 115.0L233.8 114.1L233.5 113.3L233.2 112.4L232.9 111.6L232.6 110.7L232.3 109.9L232.0 109.1L231.7 108.2L231.3 107.4L231.0 106.6L230.5 105.8L230.1 105.0L229.7 104.2L229.3 103.4L228.7 102.6L228.2 101.7L227.7 100.9L227.4 100.0L227.2 99.1L227.0 98.2L226.8 97.3L226.8 96.4L226.8 95.4L227.0 94.5L227.4 93.6L227.9 92.7L228.4 91.8L229.4 91.0L230.6 90.2L231.9 89.4L233.1 88.7L234.3 88.1L235.5 87.4L236.4 86.8L237.2 86.2L237.9 85.6L238.5 85.0L239.0 84.3L239.4 83.7L239.8 83.1L240.1 82.4L240.5 81.8L240.8 81.2L241.1 80.5L240.9 79.7L239.2 78.2L238.3 77.0L237.3 75.7L235.5 73.9L233.4 72.0L231.9 70.1L230.6 68.3L229.5 66.6L228.7 64.9L228.1 63.2L227.6 61.6L227.3 60.1L227.1 58.5L227.0 57.0L227.0 55.5L227.1 54.1L227.3 52.7L227.6 51.3L228.0 49.9L228.4 48.6L228.9 47.3L229.5 46.1L230.2 44.9L231.0 43.8L231.9 42.8L232.8 41.8L233.7 40.8L234.7 39.9L235.7 39.0L236.8 38.1Z" fill="#FEFDEE" style="mix-blend-mode:multiply"/>
<path d="M298.7 30.1L300.0 30.5L301.3 31.1L302.5 31.7L303.7 32.4L304.9 33.1L306.0 33.8L307.1 34.6L308.2 35.5L309.2 36.5L310.1 37.5L310.9 38.7L311.7 39.8L312.4 41.1L313.1 42.3L313.7 43.6L314.2 45.0L314.6 46.4L314.9 47.9L315.1 49.5L315.2 51.1L315.2 52.7L315.0 54.5L314.6 56.3L314.1 58.2L313.3 60.3L312.3 62.4L310.9 64.8L309.6 67.0L308.7 68.6L308.2 70.0L308.2 71.0L308.2 71.8L308.3 72.6L308.6 73.3L308.8 74.0L309.1 74.7L309.4 75.4L309.7 76.0L310.0 76.6L310.4 77.2L310.8 77.8L311.2 78.4L311.7 79.0L312.1 79.6L312.9 80.1L314.0 80.5L315.1 80.9L316.0 81.5L316.8 82.0L317.5 82.7L317.9 83.4L318.1 84.2L318.2 84.9L318.3 85.7L318.4 86.5L318.5 87.3L318.4 88.1L318.2 88.9L317.9 89.7L317.7 90.5L317.4 91.3L317.1 92.1L316.8 92.8L316.5 93.6L316.1 94.3L315.8 95.0L315.5 95.8L315.3 96.5L315.7 97.2L318.6 98.3L322.0 99.6L325.3 101.0L328.0 102.4L330.1 103.8L331.1 105.0L331.6 106.2L332.0 107.4L332.2 108.6L332.2 109.7L331.9 110.8L331.6 111.8L331.2 112.8L330.7 113.8L330.3 114.8L329.8 115.8L329.3 116.8L328.5 117.6L327.6 118.4L326.5 119.1L325.5 119.7L324.3 120.2L322.9 120.7L321.4 121.0L319.8 121.1L318.0 121.1L316.1 121.0L314.3 120.8L312.5 120.6L310.8 120.4L309.1 120.1L307.4 119.7L305.7 119.2L304.0 118.8L302.6 118.4L301.2 118.1L300.0 117.7L298.8 117.5L297.9 117.4L297.1 117.4L296.3 117.5L295.6 117.6L294.9 117.7L294.3 117.9L293.7 118.2L293.2 118.5L292.8 118.9L292.3 119.3L291.8 119.8L291.4 120.2L290.9 120.7L290.5 121.3L290.1 121.8L289.7 122.7L289.6 123.9L289.3 125.2L289.1 126.5L288.8 127.9L288.6 129.5L288.3 131.4L288.1 133.6L287.8 135.9L287.4 137.9L286.8 139.8L286.2 141.6L285.4 143.2L284.6 144.4L283.6 145.5L282.6 146.5L281.6 147.1L280.5 147.6L279.4 148.1L278.3 148.4L277.1 148.5L276.0 148.5L274.8 148.5L273.7 148.4L272.5 148.3L271.4 148.2L270.3 148.0L269.2 147.4L268.2 146.5L267.2 145.4L266.4 144.1L265.7 142.4L265.1 140.1L264.6 138.1L264.1 136.3L263.7 134.6L263.2 133.2L262.6 132.4L261.8 132.0L261.1 131.6L260.3 131.2L259.6 130.8L258.9 130.3L258.2 129.8L257.6 129.2L257.1 128.4L257.1 126.9L257.4 124.8L258.2 122.1L259.3 119.2L260.5 116.4L261.1 114.6L261.4 113.3L261.5 112.3L261.5 111.6L261.5 110.9L261.4 110.3L261.2 109.8L261.1 109.3L260.9 108.9L260.7 108.5L260.5 108.1L260.3 107.7L260.1 107.3L259.9 107.0L259.7 106.6L259.5 106.2L259.3 105.9L259.1 105.5L258.9 105.1L258.7 104.8L258.5 104.4L258.3 104.1L258.1 103.7L257.9 103.4L257.6 103.0L257.4 102.7L257.2 102.4L256.9 102.0L256.7 101.7L256.4 101.4L256.1 101.1L255.8 100.7L255.5 100.4L255.1 100.1L254.8 99.8L254.4 99.4L254.0 99.1L253.6 98.8L253.1 98.4L252.7 98.0L252.2 97.7L251.7 97.3L251.1 96.9L250.6 96.5L250.0 96.1L249.4 95.6L248.4 95.2L246.3 94.8L244.4 94.3L242.4 93.7L240.3 93.0L237.9 92.3L235.3 91.5L233.3 90.6L231.7 89.7L230.4 88.7L229.4 87.7L228.8 86.7L228.3 85.8L227.9 84.8L227.8 83.8L227.9 82.9L228.1 82.0L228.5 81.1L228.8 80.3L229.3 79.4L229.7 78.6L230.2 77.8L230.7 77.0L231.4 76.3L232.0 75.6L232.6 74.8L233.1 74.1L233.6 73.3L234.1 72.6L234.7 71.9L235.2 71.1L235.7 70.4L236.2 69.6L236.6 68.9L237.0 68.1L237.4 67.3L237.9 66.5L238.3 65.6L238.7 64.8L239.0 63.9L239.3 63.0L239.7 62.1L240.3 61.3L240.9 60.6L241.5 59.9L242.2 59.2L242.9 58.6L243.7 58.0L244.6 57.6L245.6 57.3L246.6 57.1L247.7 57.0L249.0 57.2L250.4 57.6L251.8 58.0L253.2 58.5L254.5 59.0L255.8 59.5L256.8 59.8L257.8 59.9L258.8 60.1L259.7 60.1L260.5 60.1L261.3 60.0L262.0 59.9L262.8 59.8L263.5 59.6L264.3 59.5L265.0 59.3L265.5 58.6L265.7 56.5L266.1 55.0L266.6 53.5L266.9 51.0L267.3 48.3L267.8 46.0L268.5 43.9L269.3 42.0L270.2 40.4L271.2 38.9L272.2 37.6L273.3 36.3L274.4 35.2L275.6 34.2L276.9 33.3L278.1 32.4L279.5 31.8L280.8 31.1L282.1 30.5L283.5 30.0L284.9 29.6L286.3 29.3L287.7 29.1L289.1 29.0L290.5 29.0L291.9 29.0L293.3 29.1L294.7 29.2L296.0 29.4L297.4 29.7Z" fill="#FEFDEE" style="mix-blend-mode:multiply"/>
<path d="M342.7 70.3L343.1 71.6L343.5 72.9L343.7 74.2L343.9 75.5L344.0 76.8L344.1 78.1L344.1 79.4L344.1 80.7L343.9 82.0L343.6 83.4L343.2 84.7L342.7 86.0L342.1 87.3L341.5 88.6L340.8 89.8L340.0 91.1L339.0 92.2L338.0 93.4L336.8 94.5L335.6 95.6L334.2 96.6L332.6 97.6L330.9 98.5L329.0 99.3L326.8 100.0L324.4 100.6L321.5 101.0L318.9 101.4L317.0 101.8L315.6 102.3L314.7 102.8L314.0 103.4L313.4 104.0L313.0 104.6L312.6 105.2L312.2 105.8L311.8 106.4L311.5 107.1L311.2 107.7L310.9 108.4L310.7 109.1L310.4 109.7L310.2 110.4L310.0 111.1L310.1 112.0L310.4 113.1L310.8 114.2L310.9 115.1L310.9 116.1L310.8 117.0L310.5 117.7L310.0 118.4L309.4 119.0L308.8 119.5L308.2 120.1L307.6 120.6L306.9 121.1L306.1 121.4L305.3 121.7L304.4 122.0L303.6 122.3L302.8 122.6L302.0 122.8L301.2 123.1L300.3 123.3L299.5 123.5L298.8 123.7L298.0 124.0L297.7 124.8L298.5 127.6L299.6 130.9L300.6 134.2L301.1 137.1L301.2 139.5L300.8 141.0L300.1 142.1L299.4 143.2L298.5 144.0L297.6 144.7L296.6 145.2L295.5 145.5L294.4 145.9L293.3 146.2L292.2 146.5L291.1 146.8L289.9 147.0L288.8 146.9L287.5 146.7L286.3 146.4L285.1 146.0L283.9 145.4L282.7 144.7L281.6 143.8L280.4 142.7L279.3 141.3L278.2 139.8L277.2 138.4L276.3 137.0L275.4 135.6L274.6 134.1L273.9 132.6L273.2 131.1L272.5 129.6L271.9 128.3L271.4 127.1L270.9 125.9L270.4 124.9L269.8 124.1L269.3 123.6L268.8 123.0L268.2 122.6L267.7 122.1L267.2 121.8L266.6 121.6L266.0 121.5L265.4 121.4L264.7 121.3L264.1 121.2L263.4 121.2L262.7 121.1L262.0 121.1L261.3 121.2L260.4 121.5L259.2 122.1L258.0 122.7L256.8 123.4L255.4 124.1L254.0 124.8L252.3 125.8L250.3 127.0L248.3 128.2L246.3 129.2L244.4 130.0L242.5 130.6L240.7 131.0L239.2 131.2L237.6 131.2L236.2 131.1L235.0 130.7L233.9 130.2L232.9 129.6L231.9 129.0L231.1 128.3L230.4 127.4L229.7 126.6L229.0 125.7L228.4 124.8L227.8 123.8L227.3 122.9L227.0 121.7L227.2 120.4L227.5 119.0L228.1 117.6L229.1 116.0L230.6 114.2L231.9 112.5L233.1 111.1L234.3 109.7L235.1 108.5L235.4 107.5L235.3 106.7L235.1 105.9L235.0 105.1L234.8 104.3L234.8 103.5L234.8 102.6L235.0 101.8L235.3 100.9L236.5 99.9L238.4 98.9L241.2 97.8L244.2 96.8L247.3 96.0L249.3 95.3L250.5 94.7L251.4 94.2L252.0 93.7L252.5 93.3L252.9 92.8L253.3 92.4L253.6 92.0L253.9 91.6L254.1 91.2L254.2 90.8L254.4 90.4L254.6 90.0L254.8 89.6L255.0 89.2L255.1 88.9L255.3 88.5L255.5 88.1L255.7 87.7L255.8 87.4L256.0 87.0L256.2 86.6L256.3 86.3L256.5 85.9L256.6 85.5L256.8 85.2L256.9 84.8L257.0 84.4L257.1 84.0L257.2 83.6L257.3 83.2L257.4 82.7L257.5 82.3L257.5 81.8L257.6 81.4L257.6 80.9L257.6 80.4L257.7 79.9L257.7 79.3L257.7 78.7L257.7 78.2L257.7 77.5L257.7 76.9L257.7 76.2L257.7 75.5L257.7 74.8L257.4 73.8L256.4 72.0L255.6 70.3L254.9 68.4L254.1 66.5L253.2 64.3L252.3 61.9L251.8 59.8L251.6 58.1L251.5 56.5L251.7 55.2L252.2 54.1L252.7 53.1L253.2 52.2L253.9 51.5L254.8 51.0L255.7 50.6L256.6 50.3L257.5 50.1L258.5 49.9L259.4 49.7L260.4 49.5L261.4 49.5L262.4 49.5L263.4 49.5L264.4 49.4L265.3 49.3L266.3 49.3L267.2 49.2L268.1 49.1L269.1 49.1L270.0 49.0L270.9 48.8L271.8 48.7L272.8 48.5L273.7 48.3L274.6 48.1L275.5 47.9L276.5 47.7L277.4 47.4L278.4 47.0L279.4 46.8L280.4 46.7L281.4 46.7L282.3 46.7L283.3 46.8L284.3 46.9L285.2 47.1L286.1 47.5L287.0 48.1L287.8 48.8L288.6 49.5L289.3 50.6L289.8 51.9L290.3 53.2L290.8 54.4L291.2 55.7L291.5 57.0L292.0 58.0L292.5 58.8L292.9 59.6L293.4 60.3L294.0 60.9L294.6 61.4L295.1 61.9L295.7 62.4L296.3 62.8L296.9 63.3L297.4 63.7L298.4 63.6L300.3 62.4L301.7 61.9L303.3 61.2L305.5 59.9L308.0 58.5L310.3 57.5L312.4 56.7L314.4 56.1L316.3 55.7L318.2 55.5L320.0 55.4L321.6 55.5L323.3 55.6L324.9 55.9L326.4 56.2L327.9 56.6L329.3 57.2L330.6 57.8L332.0 58.4L333.2 59.1L334.5 59.9L335.6 60.7L336.6 61.6L337.6 62.6L338.5 63.6L339.3 64.6L340.1 65.7L340.9 66.8L341.6 68.0L342.2 69.1Z" fill="#FEFDEE" style="mix-blend-mode:multiply"/>
<path d="M336.8 127.9L336.0 129.0L335.1 130.1L334.2 131.0L333.3 132.0L332.3 132.9L331.2 133.8L330.1 134.6L329.0 135.4L327.8 136.1L326.5 136.7L325.2 137.2L323.8 137.7L322.3 138.1L320.9 138.4L319.4 138.7L317.9 138.8L316.3 138.9L314.7 138.8L313.0 138.6L311.4 138.4L309.7 138.0L307.9 137.4L306.1 136.7L304.2 135.8L302.3 134.6L300.3 133.2L298.1 131.3L296.2 129.7L294.7 128.6L293.4 127.8L292.4 127.5L291.5 127.3L290.6 127.3L289.9 127.3L289.1 127.4L288.3 127.5L287.6 127.6L286.8 127.8L286.1 128.0L285.4 128.2L284.7 128.4L284.0 128.7L283.3 128.9L282.6 129.2L281.9 129.8L281.2 130.7L280.6 131.7L279.8 132.3L279.0 133.0L278.2 133.5L277.4 133.7L276.6 133.7L275.7 133.6L274.9 133.6L274.0 133.5L273.2 133.3L272.4 133.1L271.6 132.7L270.8 132.3L270.1 131.9L269.3 131.4L268.6 131.0L267.9 130.6L267.2 130.1L266.5 129.6L265.8 129.2L265.2 128.8L264.5 128.4L263.6 128.6L261.8 131.0L259.8 133.9L257.6 136.6L255.5 138.8L253.6 140.4L252.1 141.0L250.8 141.2L249.4 141.3L248.2 141.3L247.0 141.0L246.0 140.5L245.0 139.9L244.1 139.4L243.1 138.7L242.2 138.1L241.2 137.5L240.4 136.7L239.7 135.8L239.1 134.8L238.6 133.7L238.2 132.6L237.9 131.4L237.8 130.0L237.8 128.6L238.0 127.1L238.4 125.4L239.0 123.7L239.6 122.0L240.2 120.5L240.8 118.9L241.5 117.4L242.2 115.9L243.1 114.5L244.0 113.1L244.7 111.8L245.3 110.7L245.9 109.6L246.4 108.6L246.8 107.7L246.9 106.9L247.0 106.2L247.1 105.5L247.1 104.9L247.0 104.3L246.8 103.7L246.6 103.2L246.3 102.7L246.0 102.1L245.6 101.6L245.2 101.1L244.8 100.6L244.4 100.1L243.9 99.5L243.1 99.0L241.8 98.6L240.6 98.1L239.3 97.6L237.9 97.0L236.3 96.4L234.4 95.8L232.2 95.1L229.9 94.3L227.9 93.5L226.1 92.5L224.3 91.6L222.9 90.5L221.8 89.4L220.8 88.3L220.1 87.2L219.6 86.1L219.4 85.0L219.2 83.9L219.1 82.8L219.2 81.7L219.4 80.6L219.7 79.6L220.1 78.5L220.4 77.5L220.8 76.5L221.3 75.5L222.1 74.6L223.2 73.9L224.6 73.3L226.2 72.8L228.1 72.5L230.6 72.5L232.7 72.5L234.7 72.4L236.6 72.4L238.1 72.3L239.1 71.9L239.7 71.3L240.2 70.7L240.8 70.1L241.4 69.5L242.0 68.9L242.7 68.4L243.5 68.0L244.5 67.7L246.0 68.0L248.1 68.8L250.7 70.1L253.4 71.8L256.1 73.5L257.8 74.5L259.1 75.1L260.1 75.4L260.8 75.5L261.5 75.6L262.2 75.7L262.7 75.7L263.3 75.7L263.8 75.6L264.2 75.5L264.7 75.4L265.1 75.3L265.5 75.2L266.0 75.0L266.4 74.9L266.8 74.8L267.2 74.7L267.7 74.6L268.1 74.5L268.5 74.4L268.9 74.3L269.3 74.2L269.7 74.1L270.1 74.0L270.5 73.9L270.9 73.7L271.3 73.6L271.7 73.4L272.1 73.3L272.5 73.1L272.9 72.9L273.3 72.7L273.7 72.5L274.1 72.2L274.5 72.0L275.0 71.7L275.4 71.4L275.8 71.1L276.3 70.8L276.8 70.4L277.3 70.0L277.8 69.7L278.3 69.3L278.9 68.8L279.4 68.4L280.0 67.9L280.7 67.1L281.6 65.3L282.5 63.6L283.6 61.9L284.7 60.1L286.0 58.1L287.4 55.9L288.8 54.3L290.1 53.0L291.4 52.0L292.6 51.3L293.8 51.0L294.9 50.7L296.0 50.6L297.0 50.7L297.9 51.0L298.8 51.4L299.6 51.9L300.4 52.4L301.2 53.0L302.0 53.6L302.7 54.2L303.4 54.9L304.0 55.6L304.6 56.4L305.2 57.1L305.9 57.7L306.5 58.4L307.2 59.0L307.8 59.7L308.5 60.3L309.1 60.9L309.8 61.5L310.5 62.1L311.2 62.7L312.0 63.2L312.7 63.8L313.4 64.4L314.2 64.9L315.1 65.4L316.0 65.9L316.8 66.5L317.5 67.2L318.1 67.9L318.7 68.6L319.2 69.4L319.7 70.2L320.1 71.0L320.4 72.0L320.4 72.9L320.4 74.0L320.3 75.0L319.8 76.1L319.1 77.4L318.3 78.5L317.5 79.7L316.7 80.8L315.9 81.8L315.4 82.8L315.0 83.6L314.6 84.5L314.4 85.3L314.2 86.1L314.2 86.8L314.1 87.5L314.1 88.2L314.0 89.0L314.0 89.7L314.0 90.4L314.7 91.0L316.8 91.7L318.2 92.4L319.7 93.1L322.2 94.0L324.9 94.9L327.2 95.9L329.2 97.0L330.9 98.2L332.4 99.4L333.8 100.6L334.9 101.8L335.9 103.1L336.8 104.4L337.6 105.8L338.3 107.1L338.9 108.5L339.3 109.8L339.6 111.2L339.9 112.5L340.2 113.9L340.3 115.3L340.3 116.7L340.2 118.0L340.0 119.3L339.7 120.6L339.4 121.9L339.0 123.1L338.5 124.4L338.0 125.6L337.4 126.8Z" fill="#FEFDEE" style="mix-blend-mode:multiply"/>
<path d="M285.4 159.4L284.0 159.5L282.6 159.6L281.2 159.5L279.8 159.4L278.4 159.2L277.1 159.0L275.7 158.7L274.3 158.4L273.0 157.9L271.7 157.3L270.4 156.7L269.2 155.9L268.0 155.1L266.8 154.2L265.7 153.3L264.6 152.3L263.6 151.2L262.6 149.9L261.7 148.6L260.9 147.2L260.1 145.7L259.5 144.1L258.9 142.3L258.5 140.3L258.3 138.2L258.2 135.8L258.4 133.1L258.6 130.6L258.6 128.8L258.4 127.4L258.1 126.4L257.6 125.7L257.1 125.0L256.6 124.4L256.1 123.9L255.5 123.4L254.9 122.9L254.4 122.5L253.8 122.1L253.1 121.7L252.5 121.3L251.8 121.0L251.2 120.6L250.5 120.2L249.6 120.1L248.4 120.2L247.2 120.3L246.2 120.2L245.2 120.0L244.3 119.7L243.6 119.2L243.0 118.6L242.6 118.0L242.1 117.3L241.7 116.6L241.3 115.9L241.0 115.2L240.7 114.4L240.6 113.5L240.5 112.7L240.4 111.9L240.3 111.1L240.2 110.3L240.2 109.5L240.1 108.7L240.1 107.9L240.0 107.1L239.9 106.4L239.2 105.9L236.1 106.1L232.4 106.3L228.8 106.4L225.7 106.3L223.2 105.9L221.8 105.1L220.7 104.3L219.8 103.4L219.1 102.4L218.6 101.4L218.3 100.3L218.2 99.2L218.1 98.1L218.0 97.1L217.9 96.0L217.9 94.9L218.0 93.8L218.3 92.7L218.8 91.7L219.4 90.6L220.0 89.6L220.9 88.6L221.9 87.7L223.1 86.8L224.5 86.0L226.1 85.3L227.9 84.6L229.6 84.0L231.3 83.5L233.0 83.0L234.6 82.6L236.3 82.2L238.1 81.9L239.8 81.7L241.3 81.4L242.6 81.2L243.9 80.9L245.1 80.7L246.0 80.4L246.7 80.0L247.4 79.7L248.0 79.3L248.5 78.9L249.0 78.5L249.3 78.0L249.6 77.4L249.9 76.9L250.1 76.3L250.3 75.8L250.5 75.2L250.7 74.5L250.8 73.9L251.0 73.2L250.9 72.3L250.5 71.1L250.1 69.9L249.7 68.6L249.3 67.2L248.8 65.6L248.2 63.9L247.4 61.8L246.6 59.6L246.0 57.6L245.6 55.7L245.4 53.8L245.4 52.1L245.6 50.6L245.9 49.2L246.3 47.9L247.0 46.9L247.7 46.0L248.5 45.2L249.4 44.4L250.4 43.8L251.4 43.3L252.5 42.9L253.5 42.5L254.6 42.1L255.7 41.8L256.8 41.5L258.0 41.6L259.3 42.0L260.7 42.6L262.1 43.4L263.5 44.7L265.0 46.5L266.4 48.1L267.7 49.5L268.9 50.9L269.9 51.9L270.9 52.4L271.7 52.5L272.6 52.5L273.4 52.5L274.3 52.6L275.2 52.8L276.0 53.0L276.8 53.3L277.7 53.8L278.4 55.1L279.1 57.1L279.6 59.9L279.9 62.9L280.1 65.9L280.4 67.9L280.7 69.1L281.1 70.1L281.4 70.7L281.8 71.3L282.1 71.8L282.5 72.2L282.8 72.6L283.2 72.9L283.6 73.2L283.9 73.5L284.3 73.7L284.7 74.0L285.0 74.2L285.4 74.5L285.7 74.7L286.1 75.0L286.4 75.2L286.8 75.5L287.1 75.7L287.4 75.9L287.8 76.2L288.1 76.4L288.5 76.6L288.8 76.8L289.2 77.1L289.5 77.3L289.9 77.5L290.3 77.6L290.7 77.8L291.1 78.0L291.5 78.2L292.0 78.3L292.4 78.5L292.9 78.6L293.4 78.8L293.9 78.9L294.5 79.0L295.0 79.2L295.6 79.3L296.2 79.4L296.8 79.6L297.5 79.7L298.2 79.9L298.9 80.0L299.6 80.2L300.8 80.1L302.8 79.7L304.8 79.3L306.9 79.0L309.0 78.7L311.5 78.4L314.2 78.1L316.4 78.1L318.3 78.3L319.9 78.6L321.3 79.1L322.3 79.7L323.2 80.4L324.0 81.1L324.6 81.9L324.9 82.8L325.1 83.7L325.2 84.6L325.2 85.6L325.2 86.5L325.2 87.4L325.2 88.3L325.0 89.3L324.8 90.2L324.6 91.1L324.4 92.0L324.3 92.9L324.1 93.8L324.0 94.6L323.9 95.5L323.7 96.4L323.6 97.3L323.5 98.1L323.5 99.0L323.5 99.9L323.5 100.8L323.5 101.7L323.5 102.6L323.5 103.5L323.6 104.5L323.7 105.5L323.8 106.4L323.7 107.3L323.4 108.2L323.2 109.1L322.9 110.0L322.5 110.9L322.1 111.7L321.5 112.4L320.7 113.1L319.9 113.7L318.9 114.3L317.7 114.6L316.2 114.9L314.7 115.0L313.3 115.2L311.9 115.2L310.5 115.3L309.4 115.5L308.5 115.8L307.5 116.0L306.7 116.3L306.0 116.7L305.3 117.1L304.7 117.5L304.1 117.9L303.5 118.4L302.9 118.8L302.3 119.3L302.2 120.1L303.0 122.1L303.2 123.6L303.5 125.2L304.4 127.5L305.3 130.1L305.9 132.4L306.2 134.6L306.4 136.6L306.3 138.4L306.1 140.2L305.8 141.8L305.4 143.3L304.9 144.8L304.3 146.2L303.6 147.6L302.8 148.8L301.9 150.0L301.0 151.1L300.1 152.2L299.1 153.2L298.0 154.2L296.9 155.0L295.7 155.8L294.5 156.5L293.3 157.0L292.0 157.6L290.7 158.1L289.4 158.5L288.1 158.9L286.7 159.2Z" fill="#FEFDEE" style="mix-blend-mode:multiply"/>
<path d="M227.2 141.1L226.3 140.2L225.4 139.2L224.5 138.1L223.8 137.0L223.1 135.9L222.4 134.7L221.8 133.6L221.2 132.4L220.8 131.1L220.4 129.8L220.2 128.4L220.0 127.0L220.0 125.6L219.9 124.2L220.0 122.8L220.2 121.4L220.5 119.9L220.9 118.4L221.4 116.9L222.0 115.5L222.8 114.0L223.8 112.5L224.9 111.0L226.3 109.4L228.0 107.9L229.9 106.4L232.3 104.8L234.4 103.4L235.9 102.3L237.0 101.3L237.5 100.4L237.9 99.6L238.1 98.8L238.3 98.1L238.3 97.4L238.4 96.7L238.5 95.9L238.5 95.2L238.4 94.5L238.4 93.8L238.3 93.1L238.2 92.4L238.1 91.7L237.9 91.0L237.5 90.2L236.7 89.4L235.8 88.6L235.3 87.8L234.9 86.9L234.5 86.0L234.5 85.2L234.7 84.5L234.9 83.7L235.1 82.9L235.4 82.2L235.8 81.5L236.2 80.8L236.7 80.1L237.3 79.5L238.0 78.9L238.6 78.3L239.2 77.7L239.8 77.2L240.4 76.6L241.1 76.1L241.7 75.6L242.3 75.1L242.8 74.5L242.8 73.6L240.7 71.5L238.2 69.0L235.8 66.4L234.0 64.0L232.8 61.8L232.5 60.3L232.6 59.0L232.8 57.8L233.1 56.7L233.7 55.7L234.4 54.8L235.2 54.1L236.0 53.3L236.9 52.6L237.7 51.8L238.6 51.1L239.5 50.5L240.6 50.1L241.8 49.8L243.1 49.6L244.3 49.4L245.7 49.4L247.1 49.6L248.5 49.9L250.1 50.4L251.7 51.2L253.3 52.1L254.9 53.0L256.4 53.9L257.8 54.8L259.2 55.8L260.6 56.8L261.9 58.0L263.2 59.1L264.3 60.0L265.4 60.8L266.4 61.6L267.3 62.3L268.1 62.8L268.9 63.1L269.6 63.4L270.3 63.6L271.0 63.8L271.6 63.8L272.2 63.8L272.8 63.7L273.4 63.5L274.1 63.3L274.7 63.1L275.3 62.9L275.9 62.6L276.6 62.3L277.2 62.0L277.9 61.4L278.6 60.3L279.4 59.3L280.2 58.2L281.1 57.0L282.1 55.7L283.2 54.1L284.4 52.2L285.7 50.3L287.0 48.6L288.4 47.1L289.8 45.8L291.2 44.7L292.5 43.9L293.9 43.3L295.2 42.8L296.5 42.7L297.7 42.7L298.9 42.7L300.0 42.9L301.1 43.2L302.2 43.7L303.2 44.2L304.2 44.7L305.2 45.3L306.1 45.9L307.1 46.5L307.8 47.5L308.3 48.7L308.6 50.1L308.8 51.6L308.6 53.5L308.1 55.8L307.6 57.8L307.2 59.6L306.8 61.3L306.6 62.7L306.8 63.7L307.3 64.4L307.8 65.1L308.3 65.7L308.8 66.4L309.2 67.1L309.6 67.9L309.8 68.7L309.9 69.6L309.3 71.0L308.0 72.7L306.1 74.8L303.8 76.9L301.4 79.0L300.0 80.4L299.1 81.4L298.5 82.3L298.2 82.9L298.0 83.5L297.8 84.1L297.6 84.6L297.5 85.1L297.5 85.6L297.5 86.1L297.5 86.5L297.5 86.9L297.6 87.3L297.6 87.8L297.6 88.2L297.6 88.6L297.6 89.0L297.6 89.4L297.6 89.8L297.7 90.2L297.7 90.6L297.7 91.0L297.7 91.4L297.7 91.8L297.8 92.2L297.8 92.6L297.9 93.0L298.0 93.4L298.0 93.8L298.1 94.2L298.3 94.6L298.4 95.0L298.5 95.5L298.7 95.9L298.9 96.3L299.0 96.8L299.3 97.3L299.5 97.7L299.7 98.2L300.0 98.7L300.2 99.3L300.5 99.8L300.8 100.4L301.1 101.0L301.4 101.6L301.8 102.3L302.5 103.1L304.2 104.3L305.7 105.6L307.2 106.9L308.8 108.3L310.6 110.0L312.6 111.8L314.0 113.4L315.0 114.9L315.7 116.3L316.1 117.6L316.3 118.7L316.3 119.8L316.2 120.8L315.9 121.8L315.3 122.5L314.7 123.2L314.0 123.9L313.3 124.5L312.5 125.1L311.7 125.7L310.9 126.2L310.1 126.7L309.2 127.1L308.3 127.5L307.4 127.9L306.6 128.4L305.8 128.8L305.0 129.3L304.1 129.7L303.3 130.2L302.6 130.6L301.8 131.1L301.0 131.6L300.3 132.2L299.5 132.7L298.8 133.3L298.0 133.8L297.3 134.4L296.6 135.1L295.8 135.8L295.1 136.5L294.2 136.9L293.4 137.3L292.5 137.7L291.5 138.0L290.6 138.3L289.7 138.5L288.7 138.5L287.6 138.4L286.6 138.1L285.5 137.8L284.5 137.1L283.4 136.1L282.3 135.1L281.3 134.2L280.4 133.2L279.5 132.2L278.6 131.5L277.8 131.0L277.0 130.4L276.2 130.0L275.5 129.7L274.7 129.5L274.0 129.3L273.2 129.1L272.5 128.9L271.8 128.7L271.0 128.6L270.2 129.0L269.1 130.9L268.1 132.0L266.9 133.2L265.5 135.3L263.9 137.6L262.4 139.4L260.8 141.0L259.2 142.4L257.7 143.5L256.1 144.5L254.6 145.2L253.0 145.9L251.5 146.4L249.9 146.9L248.4 147.2L246.9 147.4L245.4 147.5L243.9 147.5L242.4 147.5L240.9 147.4L239.5 147.2L238.1 146.9L236.7 146.5L235.4 146.1L234.1 145.5L232.9 144.9L231.7 144.3L230.5 143.6L229.3 142.8L228.2 142.0Z" fill="#FEFDEE" style="mix-blend-mode:multiply"/>
<path d="M206.1 86.8L206.3 85.5L206.6 84.2L206.9 83.0L207.4 81.7L207.9 80.5L208.4 79.3L209.0 78.1L209.6 76.9L210.4 75.8L211.3 74.7L212.3 73.7L213.3 72.7L214.4 71.8L215.6 70.9L216.8 70.1L218.1 69.3L219.5 68.6L221.0 68.0L222.5 67.5L224.2 67.0L225.9 66.7L227.7 66.4L229.7 66.3L231.8 66.4L234.1 66.7L236.5 67.1L239.3 67.9L241.8 68.6L243.7 69.0L245.2 69.2L246.3 69.0L247.2 68.8L247.9 68.5L248.6 68.2L249.3 67.8L249.9 67.4L250.6 67.0L251.1 66.5L251.7 66.0L252.2 65.6L252.8 65.1L253.3 64.6L253.8 64.0L254.3 63.5L254.7 62.7L254.8 61.6L255.0 60.4L255.4 59.5L255.8 58.6L256.3 57.9L256.9 57.3L257.7 57.0L258.5 56.7L259.3 56.4L260.1 56.1L260.9 55.9L261.7 55.8L262.6 55.8L263.5 55.9L264.4 55.9L265.2 56.0L266.1 56.1L266.9 56.2L267.8 56.3L268.6 56.5L269.4 56.6L270.2 56.7L271.0 56.8L271.7 56.2L272.2 53.4L272.7 50.0L273.4 46.6L274.3 43.8L275.3 41.5L276.3 40.4L277.5 39.6L278.6 39.0L279.8 38.5L280.9 38.3L282.1 38.3L283.2 38.4L284.4 38.6L285.5 38.7L286.6 38.9L287.8 39.1L288.9 39.4L289.9 39.9L290.9 40.6L291.8 41.4L292.7 42.3L293.6 43.2L294.3 44.4L295.0 45.7L295.5 47.1L295.9 48.8L296.1 50.6L296.4 52.3L296.6 54.0L296.7 55.6L296.8 57.3L296.8 58.9L296.7 60.6L296.5 62.2L296.5 63.6L296.4 64.9L296.4 66.2L296.4 67.3L296.5 68.2L296.7 68.9L296.9 69.6L297.2 70.3L297.5 70.9L297.8 71.4L298.3 71.8L298.7 72.2L299.2 72.5L299.8 72.9L300.3 73.2L300.9 73.5L301.5 73.8L302.2 74.1L302.8 74.4L303.8 74.5L305.1 74.4L306.5 74.3L307.9 74.2L309.4 74.2L311.1 74.1L313.1 73.9L315.4 73.6L317.8 73.3L320.0 73.3L322.1 73.4L324.1 73.6L325.9 73.9L327.4 74.4L328.8 75.0L329.9 75.7L330.9 76.5L331.6 77.4L332.3 78.4L332.9 79.3L333.3 80.4L333.6 81.4L333.8 82.5L334.0 83.5L334.1 84.6L334.2 85.7L334.3 86.8L333.9 87.9L333.2 89.0L332.2 90.1L331.1 91.2L329.5 92.3L327.2 93.3L325.3 94.2L323.6 95.0L321.9 95.8L320.6 96.5L319.8 97.3L319.6 98.1L319.4 98.9L319.2 99.7L318.9 100.4L318.6 101.2L318.1 101.9L317.6 102.6L316.9 103.2L315.4 103.6L313.2 103.8L310.2 103.6L307.0 103.3L303.8 102.8L301.8 102.6L300.4 102.7L299.3 102.7L298.6 102.9L297.9 103.1L297.3 103.3L296.8 103.6L296.3 103.8L295.9 104.1L295.6 104.4L295.2 104.6L294.9 104.9L294.5 105.2L294.2 105.5L293.8 105.7L293.5 106.0L293.2 106.3L292.9 106.5L292.5 106.8L292.2 107.1L291.9 107.3L291.6 107.6L291.3 107.9L290.9 108.1L290.6 108.4L290.3 108.7L290.0 109.0L289.8 109.3L289.5 109.6L289.2 109.9L288.9 110.2L288.7 110.6L288.4 111.0L288.1 111.4L287.9 111.8L287.6 112.2L287.4 112.6L287.1 113.1L286.8 113.6L286.6 114.1L286.3 114.6L286.0 115.2L285.7 115.7L285.4 116.3L285.1 117.0L284.8 117.6L284.6 118.7L284.6 120.6L284.5 122.6L284.4 124.5L284.2 126.6L284.0 129.0L283.7 131.5L283.2 133.5L282.6 135.2L281.9 136.6L281.1 137.8L280.2 138.5L279.3 139.2L278.4 139.8L277.4 140.2L276.4 140.3L275.5 140.2L274.5 140.1L273.5 140.0L272.6 139.8L271.6 139.6L270.7 139.3L269.8 138.9L268.9 138.5L268.0 138.1L267.1 137.8L266.2 137.4L265.3 137.1L264.4 136.8L263.5 136.5L262.7 136.2L261.8 135.9L260.9 135.6L260.0 135.4L259.1 135.1L258.2 134.9L257.2 134.7L256.3 134.5L255.4 134.3L254.4 134.2L253.3 134.2L252.3 134.0L251.4 133.7L250.5 133.3L249.6 132.8L248.8 132.4L248.0 131.9L247.2 131.3L246.6 130.5L246.1 129.7L245.6 128.7L245.3 127.8L245.2 126.5L245.3 125.1L245.4 123.8L245.6 122.4L245.8 121.1L246.1 119.8L246.1 118.8L246.1 117.8L246.0 116.9L245.9 116.1L245.7 115.3L245.4 114.6L245.1 113.9L244.8 113.3L244.5 112.6L244.2 112.0L243.8 111.4L242.9 111.0L240.7 111.3L239.2 111.3L237.4 111.2L234.8 111.4L231.9 111.7L229.4 111.7L227.1 111.6L225.0 111.2L223.1 110.8L221.4 110.2L219.8 109.6L218.3 108.8L216.9 108.0L215.5 107.2L214.3 106.2L213.2 105.2L212.2 104.2L211.2 103.1L210.3 102.0L209.5 100.8L208.7 99.7L208.1 98.4L207.5 97.2L207.1 95.9L206.8 94.7L206.5 93.4L206.3 92.1L206.1 90.8L206.0 89.4L206.0 88.1Z" fill="#FEFDEE" style="mix-blend-mode:multiply"/>
<path d="M297.9 93.3L297.8 92.8L297.8 92.2L297.7 91.7L297.7 91.2L297.7 90.7L297.6 90.1L297.6 89.6L297.6 89.0L297.6 88.5L297.6 87.9L297.6 87.4L297.5 86.8L297.5 86.2L297.5 85.7L297.6 85.0L297.7 84.3L298.0 83.6L298.3 82.8L298.8 81.8L299.9 80.5L299.3 80.1L298.3 79.9L297.4 79.7L296.5 79.5L295.7 79.3L294.9 79.1L294.2 79.0L293.5 78.8L292.8 78.6L292.2 78.4L291.6 78.2L291.0 78.0L290.5 77.7L290.0 77.5L289.5 77.2L289.0 76.9L288.5 76.7L288.1 76.4L287.6 76.0L287.1 75.7L286.7 75.4L286.2 75.1L285.8 74.8L285.3 74.4L284.8 74.1L284.3 73.8L283.9 73.4L283.4 73.1L282.9 72.7L282.4 72.2L281.9 71.5L281.5 70.8L281.0 69.9L280.6 68.5L279.9 68.0L279.1 68.6L278.4 69.2L277.7 69.7L277.0 70.2L276.4 70.7L275.8 71.1L275.2 71.5L274.6 71.9L274.1 72.3L273.5 72.6L273.0 72.9L272.4 73.1L271.9 73.4L271.4 73.6L270.9 73.8L270.3 73.9L269.8 74.1L269.2 74.2L268.7 74.4L268.2 74.5L267.6 74.6L267.0 74.8L266.5 74.9L265.9 75.1L265.3 75.2L264.8 75.4L264.2 75.5L263.5 75.6L262.8 75.7L262.1 75.7L261.2 75.6L260.2 75.4L258.9 75.0L257.6 74.6L257.7 75.6L257.7 76.5L257.7 77.4L257.7 78.2L257.7 79.0L257.7 79.7L257.6 80.4L257.6 81.1L257.5 81.7L257.4 82.3L257.4 82.9L257.2 83.5L257.1 84.0L257.0 84.6L256.8 85.1L256.6 85.6L256.4 86.1L256.2 86.6L256.0 87.0L255.8 87.5L255.5 88.0L255.3 88.5L255.1 89.0L254.8 89.5L254.6 90.0L254.3 90.6L254.1 91.1L253.8 91.6L253.5 92.2L253.0 92.7L252.4 93.3L251.8 93.9L250.7 94.6L249.1 95.3L249.8 95.9L250.6 96.5L251.3 97.0L252.0 97.6L252.7 98.1L253.3 98.5L253.9 99.0L254.4 99.4L254.9 99.9L255.4 100.3L255.8 100.8L256.2 101.2L256.6 101.6L256.9 102.1L257.3 102.5L257.6 102.9L257.9 103.4L258.1 103.9L258.4 104.3L258.7 104.8L258.9 105.3L259.2 105.8L259.5 106.2L259.7 106.7L260.0 107.2L260.3 107.7L260.6 108.2L260.9 108.7L261.1 109.3L261.3 110.0L261.4 110.8L261.5 111.6L261.5 112.7L261.2 114.2L261.7 114.6L262.7 114.4L263.6 114.2L264.5 114.0L265.3 113.8L266.1 113.7L266.9 113.5L267.6 113.4L268.3 113.3L268.9 113.2L269.6 113.2L270.2 113.1L270.8 113.1L271.4 113.1L271.9 113.1L272.5 113.2L273.1 113.3L273.6 113.3L274.2 113.4L274.7 113.5L275.3 113.6L275.8 113.7L276.4 113.8L277.0 113.9L277.6 114.0L278.1 114.1L278.7 114.3L279.3 114.4L280.0 114.5L280.6 114.8L281.3 115.1L282.1 115.5L282.9 116.1L283.9 117.1L284.8 117.7L285.2 116.8L285.6 116.0L286.0 115.2L286.4 114.5L286.7 113.8L287.1 113.1L287.4 112.5L287.8 111.9L288.1 111.4L288.5 110.9L288.8 110.4L289.2 109.9L289.6 109.5L289.9 109.1L290.3 108.7L290.7 108.3L291.1 108.0L291.6 107.6L292.0 107.2L292.4 106.9L292.8 106.6L293.3 106.2L293.7 105.8L294.2 105.5L294.6 105.1L295.1 104.8L295.5 104.4L296.0 104.0L296.6 103.7L297.3 103.4L298.1 103.1L299.0 102.8L300.3 102.7L302.0 102.6L301.5 101.7L301.0 100.9L300.6 100.1L300.3 99.3L299.9 98.6L299.6 97.9L299.3 97.3L299.0 96.7L298.8 96.1L298.5 95.5L298.4 94.9L298.2 94.4L298.1 93.8Z" fill="#F0FFF5" style="mix-blend-mode:multiply"/>
<path d="M237.9 37.4L239.1 36.7L240.4 36.1L241.6 35.6L242.9 35.1L244.3 34.7L245.6 34.4L247.0 34.1L248.3 33.8L249.8 33.7L251.2 33.7L252.7 33.8L254.1 33.9L255.6 34.2L257.0 34.5L258.5 34.8L259.9 35.3L261.4 35.9L262.8 36.6L264.2 37.4L265.6 38.3L267.0 39.4L268.3 40.6L269.6 42.0L270.9 43.6L272.1 45.5L273.2 47.5L274.3 50.1L275.3 52.4L276.1 54.0L276.9 55.3L277.7 55.9L278.4 56.5L279.2 56.9L279.9 57.1L280.7 57.4L281.4 57.6L282.1 57.8L282.8 58.0L283.6 58.1L284.3 58.2L285.1 58.3L285.8 58.3L286.6 58.4L287.3 58.4L288.2 58.2L289.2 57.6L290.3 57.0L291.3 56.7L292.3 56.5L293.2 56.4L294.1 56.5L294.8 56.8L295.6 57.2L296.3 57.6L297.0 58.1L297.7 58.5L298.3 59.1L298.8 59.7L299.4 60.4L299.8 61.1L300.3 61.8L300.8 62.5L301.2 63.2L301.6 63.9L302.0 64.6L302.4 65.3L302.8 66.0L303.3 66.5L304.2 66.7L306.9 65.3L310.0 63.6L313.3 62.0L316.1 60.9L318.6 60.2L320.2 60.3L321.5 60.6L322.8 61.1L323.9 61.6L324.8 62.4L325.5 63.2L326.1 64.1L326.7 65.1L327.3 66.0L327.8 66.9L328.4 67.9L328.8 68.9L329.0 70.0L329.1 71.2L329.0 72.4L328.9 73.5L328.6 74.8L328.1 76.0L327.4 77.3L326.5 78.6L325.4 79.9L324.1 81.2L322.8 82.5L321.5 83.7L320.3 84.8L319.0 85.9L317.6 86.9L316.1 87.9L314.7 88.8L313.5 89.6L312.4 90.4L311.3 91.1L310.4 91.8L309.7 92.5L309.3 93.1L308.8 93.7L308.4 94.3L308.1 94.9L307.9 95.4L307.8 96.0L307.8 96.6L307.8 97.2L307.9 97.8L308.0 98.4L308.1 99.0L308.2 99.7L308.4 100.3L308.5 101.0L309.0 101.8L310.0 102.7L310.9 103.6L311.8 104.7L312.8 105.7L314.0 106.9L315.4 108.2L317.0 109.8L318.8 111.4L320.2 113.0L321.4 114.6L322.5 116.2L323.3 117.7L323.8 119.1L324.2 120.5L324.3 121.9L324.2 123.0L324.0 124.2L323.6 125.2L323.2 126.3L322.6 127.2L321.9 128.1L321.1 128.9L320.4 129.7L319.6 130.5L318.7 131.2L317.9 131.9L316.7 132.4L315.4 132.6L313.8 132.5L312.2 132.4L310.3 131.8L308.1 130.8L306.2 129.9L304.4 129.2L302.7 128.4L301.2 127.9L300.2 127.9L299.4 128.1L298.6 128.5L297.8 128.8L297.0 129.1L296.2 129.3L295.3 129.5L294.4 129.5L293.4 129.4L292.1 128.5L290.6 127.0L288.9 124.7L287.2 122.1L285.6 119.5L284.5 117.8L283.6 116.8L282.9 116.1L282.3 115.7L281.7 115.3L281.1 115.0L280.6 114.8L280.1 114.6L279.6 114.4L279.2 114.3L278.7 114.3L278.3 114.2L277.8 114.1L277.4 114.0L277.0 113.9L276.5 113.9L276.1 113.8L275.7 113.7L275.3 113.6L274.9 113.5L274.4 113.5L274.0 113.4L273.6 113.3L273.2 113.3L272.8 113.2L272.4 113.2L271.9 113.1L271.5 113.1L271.1 113.1L270.6 113.1L270.2 113.1L269.7 113.1L269.2 113.2L268.8 113.2L268.3 113.3L267.8 113.4L267.2 113.5L266.7 113.5L266.1 113.7L265.5 113.8L264.9 113.9L264.3 114.0L263.6 114.2L262.9 114.3L262.2 114.5L261.5 114.7L260.5 115.1L258.9 116.4L257.2 117.5L255.5 118.6L253.7 119.8L251.6 121.1L249.3 122.5L247.3 123.4L245.6 124.0L243.9 124.4L242.5 124.5L241.3 124.3L240.2 124.1L239.1 123.8L238.2 123.3L237.5 122.6L237.0 121.9L236.4 121.1L236.0 120.3L235.5 119.4L235.1 118.6L234.7 117.8L234.5 116.9L234.2 115.9L234.0 115.0L233.8 114.1L233.5 113.3L233.2 112.4L232.9 111.6L232.6 110.7L232.3 109.9L232.0 109.1L231.7 108.2L231.3 107.4L231.0 106.6L230.5 105.8L230.1 105.0L229.7 104.2L229.3 103.4L228.7 102.6L228.2 101.7L227.7 100.9L227.4 100.0L227.2 99.1L227.0 98.2L226.8 97.3L226.8 96.4L226.8 95.4L227.0 94.5L227.4 93.6L227.9 92.7L228.4 91.8L229.4 91.0L230.6 90.2L231.9 89.4L233.1 88.7L234.3 88.1L235.5 87.4L236.4 86.8L237.2 86.2L237.9 85.6L238.5 85.0L239.0 84.3L239.4 83.7L239.8 83.1L240.1 82.4L240.5 81.8L240.8 81.2L241.1 80.5L240.9 79.7L239.2 78.2L238.3 77.0L237.3 75.7L235.5 73.9L233.4 72.0L231.9 70.1L230.6 68.3L229.5 66.6L228.7 64.9L228.1 63.2L227.6 61.6L227.3 60.1L227.1 58.5L227.0 57.0L227.0 55.5L227.1 54.1L227.3 52.7L227.6 51.3L228.0 49.9L228.4 48.6L228.9 47.3L229.5 46.1L230.2 44.9L231.0 43.8L231.9 42.8L232.8 41.8L233.7 40.8L234.7 39.9L235.7 39.0L236.8 38.1Z" fill="none" stroke="#3a2c18" stroke-width="0.55" stroke-opacity="0.8"/>
<path d="M298.7 30.1L300.0 30.5L301.3 31.1L302.5 31.7L303.7 32.4L304.9 33.1L306.0 33.8L307.1 34.6L308.2 35.5L309.2 36.5L310.1 37.5L310.9 38.7L311.7 39.8L312.4 41.1L313.1 42.3L313.7 43.6L314.2 45.0L314.6 46.4L314.9 47.9L315.1 49.5L315.2 51.1L315.2 52.7L315.0 54.5L314.6 56.3L314.1 58.2L313.3 60.3L312.3 62.4L310.9 64.8L309.6 67.0L308.7 68.6L308.2 70.0L308.2 71.0L308.2 71.8L308.3 72.6L308.6 73.3L308.8 74.0L309.1 74.7L309.4 75.4L309.7 76.0L310.0 76.6L310.4 77.2L310.8 77.8L311.2 78.4L311.7 79.0L312.1 79.6L312.9 80.1L314.0 80.5L315.1 80.9L316.0 81.5L316.8 82.0L317.5 82.7L317.9 83.4L318.1 84.2L318.2 84.9L318.3 85.7L318.4 86.5L318.5 87.3L318.4 88.1L318.2 88.9L317.9 89.7L317.7 90.5L317.4 91.3L317.1 92.1L316.8 92.8L316.5 93.6L316.1 94.3L315.8 95.0L315.5 95.8L315.3 96.5L315.7 97.2L318.6 98.3L322.0 99.6L325.3 101.0L328.0 102.4L330.1 103.8L331.1 105.0L331.6 106.2L332.0 107.4L332.2 108.6L332.2 109.7L331.9 110.8L331.6 111.8L331.2 112.8L330.7 113.8L330.3 114.8L329.8 115.8L329.3 116.8L328.5 117.6L327.6 118.4L326.5 119.1L325.5 119.7L324.3 120.2L322.9 120.7L321.4 121.0L319.8 121.1L318.0 121.1L316.1 121.0L314.3 120.8L312.5 120.6L310.8 120.4L309.1 120.1L307.4 119.7L305.7 119.2L304.0 118.8L302.6 118.4L301.2 118.1L300.0 117.7L298.8 117.5L297.9 117.4L297.1 117.4L296.3 117.5L295.6 117.6L294.9 117.7L294.3 117.9L293.7 118.2L293.2 118.5L292.8 118.9L292.3 119.3L291.8 119.8L291.4 120.2L290.9 120.7L290.5 121.3L290.1 121.8L289.7 122.7L289.6 123.9L289.3 125.2L289.1 126.5L288.8 127.9L288.6 129.5L288.3 131.4L288.1 133.6L287.8 135.9L287.4 137.9L286.8 139.8L286.2 141.6L285.4 143.2L284.6 144.4L283.6 145.5L282.6 146.5L281.6 147.1L280.5 147.6L279.4 148.1L278.3 148.4L277.1 148.5L276.0 148.5L274.8 148.5L273.7 148.4L272.5 148.3L271.4 148.2L270.3 148.0L269.2 147.4L268.2 146.5L267.2 145.4L266.4 144.1L265.7 142.4L265.1 140.1L264.6 138.1L264.1 136.3L263.7 134.6L263.2 133.2L262.6 132.4L261.8 132.0L261.1 131.6L260.3 131.2L259.6 130.8L258.9 130.3L258.2 129.8L257.6 129.2L257.1 128.4L257.1 126.9L257.4 124.8L258.2 122.1L259.3 119.2L260.5 116.4L261.1 114.6L261.4 113.3L261.5 112.3L261.5 111.6L261.5 110.9L261.4 110.3L261.2 109.8L261.1 109.3L260.9 108.9L260.7 108.5L260.5 108.1L260.3 107.7L260.1 107.3L259.9 107.0L259.7 106.6L259.5 106.2L259.3 105.9L259.1 105.5L258.9 105.1L258.7 104.8L258.5 104.4L258.3 104.1L258.1 103.7L257.9 103.4L257.6 103.0L257.4 102.7L257.2 102.4L256.9 102.0L256.7 101.7L256.4 101.4L256.1 101.1L255.8 100.7L255.5 100.4L255.1 100.1L254.8 99.8L254.4 99.4L254.0 99.1L253.6 98.8L253.1 98.4L252.7 98.0L252.2 97.7L251.7 97.3L251.1 96.9L250.6 96.5L250.0 96.1L249.4 95.6L248.4 95.2L246.3 94.8L244.4 94.3L242.4 93.7L240.3 93.0L237.9 92.3L235.3 91.5L233.3 90.6L231.7 89.7L230.4 88.7L229.4 87.7L228.8 86.7L228.3 85.8L227.9 84.8L227.8 83.8L227.9 82.9L228.1 82.0L228.5 81.1L228.8 80.3L229.3 79.4L229.7 78.6L230.2 77.8L230.7 77.0L231.4 76.3L232.0 75.6L232.6 74.8L233.1 74.1L233.6 73.3L234.1 72.6L234.7 71.9L235.2 71.1L235.7 70.4L236.2 69.6L236.6 68.9L237.0 68.1L237.4 67.3L237.9 66.5L238.3 65.6L238.7 64.8L239.0 63.9L239.3 63.0L239.7 62.1L240.3 61.3L240.9 60.6L241.5 59.9L242.2 59.2L242.9 58.6L243.7 58.0L244.6 57.6L245.6 57.3L246.6 57.1L247.7 57.0L249.0 57.2L250.4 57.6L251.8 58.0L253.2 58.5L254.5 59.0L255.8 59.5L256.8 59.8L257.8 59.9L258.8 60.1L259.7 60.1L260.5 60.1L261.3 60.0L262.0 59.9L262.8 59.8L263.5 59.6L264.3 59.5L265.0 59.3L265.5 58.6L265.7 56.5L266.1 55.0L266.6 53.5L266.9 51.0L267.3 48.3L267.8 46.0L268.5 43.9L269.3 42.0L270.2 40.4L271.2 38.9L272.2 37.6L273.3 36.3L274.4 35.2L275.6 34.2L276.9 33.3L278.1 32.4L279.5 31.8L280.8 31.1L282.1 30.5L283.5 30.0L284.9 29.6L286.3 29.3L287.7 29.1L289.1 29.0L290.5 29.0L291.9 29.0L293.3 29.1L294.7 29.2L296.0 29.4L297.4 29.7Z" fill="none" stroke="#3a2c18" stroke-width="0.55" stroke-opacity="0.8"/>
<path d="M342.7 70.3L343.1 71.6L343.5 72.9L343.7 74.2L343.9 75.5L344.0 76.8L344.1 78.1L344.1 79.4L344.1 80.7L343.9 82.0L343.6 83.4L343.2 84.7L342.7 86.0L342.1 87.3L341.5 88.6L340.8 89.8L340.0 91.1L339.0 92.2L338.0 93.4L336.8 94.5L335.6 95.6L334.2 96.6L332.6 97.6L330.9 98.5L329.0 99.3L326.8 100.0L324.4 100.6L321.5 101.0L318.9 101.4L317.0 101.8L315.6 102.3L314.7 102.8L314.0 103.4L313.4 104.0L313.0 104.6L312.6 105.2L312.2 105.8L311.8 106.4L311.5 107.1L311.2 107.7L310.9 108.4L310.7 109.1L310.4 109.7L310.2 110.4L310.0 111.1L310.1 112.0L310.4 113.1L310.8 114.2L310.9 115.1L310.9 116.1L310.8 117.0L310.5 117.7L310.0 118.4L309.4 119.0L308.8 119.5L308.2 120.1L307.6 120.6L306.9 121.1L306.1 121.4L305.3 121.7L304.4 122.0L303.6 122.3L302.8 122.6L302.0 122.8L301.2 123.1L300.3 123.3L299.5 123.5L298.8 123.7L298.0 124.0L297.7 124.8L298.5 127.6L299.6 130.9L300.6 134.2L301.1 137.1L301.2 139.5L300.8 141.0L300.1 142.1L299.4 143.2L298.5 144.0L297.6 144.7L296.6 145.2L295.5 145.5L294.4 145.9L293.3 146.2L292.2 146.5L291.1 146.8L289.9 147.0L288.8 146.9L287.5 146.7L286.3 146.4L285.1 146.0L283.9 145.4L282.7 144.7L281.6 143.8L280.4 142.7L279.3 141.3L278.2 139.8L277.2 138.4L276.3 137.0L275.4 135.6L274.6 134.1L273.9 132.6L273.2 131.1L272.5 129.6L271.9 128.3L271.4 127.1L270.9 125.9L270.4 124.9L269.8 124.1L269.3 123.6L268.8 123.0L268.2 122.6L267.7 122.1L267.2 121.8L266.6 121.6L266.0 121.5L265.4 121.4L264.7 121.3L264.1 121.2L263.4 121.2L262.7 121.1L262.0 121.1L261.3 121.2L260.4 121.5L259.2 122.1L258.0 122.7L256.8 123.4L255.4 124.1L254.0 124.8L252.3 125.8L250.3 127.0L248.3 128.2L246.3 129.2L244.4 130.0L242.5 130.6L240.7 131.0L239.2 131.2L237.6 131.2L236.2 131.1L235.0 130.7L233.9 130.2L232.9 129.6L231.9 129.0L231.1 128.3L230.4 127.4L229.7 126.6L229.0 125.7L228.4 124.8L227.8 123.8L227.3 122.9L227.0 121.7L227.2 120.4L227.5 119.0L228.1 117.6L229.1 116.0L230.6 114.2L231.9 112.5L233.1 111.1L234.3 109.7L235.1 108.5L235.4 107.5L235.3 106.7L235.1 105.9L235.0 105.1L234.8 104.3L234.8 103.5L234.8 102.6L235.0 101.8L235.3 100.9L236.5 99.9L238.4 98.9L241.2 97.8L244.2 96.8L247.3 96.0L249.3 95.3L250.5 94.7L251.4 94.2L252.0 93.7L252.5 93.3L252.9 92.8L253.3 92.4L253.6 92.0L253.9 91.6L254.1 91.2L254.2 90.8L254.4 90.4L254.6 90.0L254.8 89.6L255.0 89.2L255.1 88.9L255.3 88.5L255.5 88.1L255.7 87.7L255.8 87.4L256.0 87.0L256.2 86.6L256.3 86.3L256.5 85.9L256.6 85.5L256.8 85.2L256.9 84.8L257.0 84.4L257.1 84.0L257.2 83.6L257.3 83.2L257.4 82.7L257.5 82.3L257.5 81.8L257.6 81.4L257.6 80.9L257.6 80.4L257.7 79.9L257.7 79.3L257.7 78.7L257.7 78.2L257.7 77.5L257.7 76.9L257.7 76.2L257.7 75.5L257.7 74.8L257.4 73.8L256.4 72.0L255.6 70.3L254.9 68.4L254.1 66.5L253.2 64.3L252.3 61.9L251.8 59.8L251.6 58.1L251.5 56.5L251.7 55.2L252.2 54.1L252.7 53.1L253.2 52.2L253.9 51.5L254.8 51.0L255.7 50.6L256.6 50.3L257.5 50.1L258.5 49.9L259.4 49.7L260.4 49.5L261.4 49.5L262.4 49.5L263.4 49.5L264.4 49.4L265.3 49.3L266.3 49.3L267.2 49.2L268.1 49.1L269.1 49.1L270.0 49.0L270.9 48.8L271.8 48.7L272.8 48.5L273.7 48.3L274.6 48.1L275.5 47.9L276.5 47.7L277.4 47.4L278.4 47.0L279.4 46.8L280.4 46.7L281.4 46.7L282.3 46.7L283.3 46.8L284.3 46.9L285.2 47.1L286.1 47.5L287.0 48.1L287.8 48.8L288.6 49.5L289.3 50.6L289.8 51.9L290.3 53.2L290.8 54.4L291.2 55.7L291.5 57.0L292.0 58.0L292.5 58.8L292.9 59.6L293.4 60.3L294.0 60.9L294.6 61.4L295.1 61.9L295.7 62.4L296.3 62.8L296.9 63.3L297.4 63.7L298.4 63.6L300.3 62.4L301.7 61.9L303.3 61.2L305.5 59.9L308.0 58.5L310.3 57.5L312.4 56.7L314.4 56.1L316.3 55.7L318.2 55.5L320.0 55.4L321.6 55.5L323.3 55.6L324.9 55.9L326.4 56.2L327.9 56.6L329.3 57.2L330.6 57.8L332.0 58.4L333.2 59.1L334.5 59.9L335.6 60.7L336.6 61.6L337.6 62.6L338.5 63.6L339.3 64.6L340.1 65.7L340.9 66.8L341.6 68.0L342.2 69.1Z" fill="none" stroke="#3a2c18" stroke-width="0.55" stroke-opacity="0.8"/>
<path d="M336.8 127.9L336.0 129.0L335.1 130.1L334.2 131.0L333.3 132.0L332.3 132.9L331.2 133.8L330.1 134.6L329.0 135.4L327.8 136.1L326.5 136.7L325.2 137.2L323.8 137.7L322.3 138.1L320.9 138.4L319.4 138.7L317.9 138.8L316.3 138.9L314.7 138.8L313.0 138.6L311.4 138.4L309.7 138.0L307.9 137.4L306.1 136.7L304.2 135.8L302.3 134.6L300.3 133.2L298.1 131.3L296.2 129.7L294.7 128.6L293.4 127.8L292.4 127.5L291.5 127.3L290.6 127.3L289.9 127.3L289.1 127.4L288.3 127.5L287.6 127.6L286.8 127.8L286.1 128.0L285.4 128.2L284.7 128.4L284.0 128.7L283.3 128.9L282.6 129.2L281.9 129.8L281.2 130.7L280.6 131.7L279.8 132.3L279.0 133.0L278.2 133.5L277.4 133.7L276.6 133.7L275.7 133.6L274.9 133.6L274.0 133.5L273.2 133.3L272.4 133.1L271.6 132.7L270.8 132.3L270.1 131.9L269.3 131.4L268.6 131.0L267.9 130.6L267.2 130.1L266.5 129.6L265.8 129.2L265.2 128.8L264.5 128.4L263.6 128.6L261.8 131.0L259.8 133.9L257.6 136.6L255.5 138.8L253.6 140.4L252.1 141.0L250.8 141.2L249.4 141.3L248.2 141.3L247.0 141.0L246.0 140.5L245.0 139.9L244.1 139.4L243.1 138.7L242.2 138.1L241.2 137.5L240.4 136.7L239.7 135.8L239.1 134.8L238.6 133.7L238.2 132.6L237.9 131.4L237.8 130.0L237.8 128.6L238.0 127.1L238.4 125.4L239.0 123.7L239.6 122.0L240.2 120.5L240.8 118.9L241.5 117.4L242.2 115.9L243.1 114.5L244.0 113.1L244.7 111.8L245.3 110.7L245.9 109.6L246.4 108.6L246.8 107.7L246.9 106.9L247.0 106.2L247.1 105.5L247.1 104.9L247.0 104.3L246.8 103.7L246.6 103.2L246.3 102.7L246.0 102.1L245.6 101.6L245.2 101.1L244.8 100.6L244.4 100.1L243.9 99.5L243.1 99.0L241.8 98.6L240.6 98.1L239.3 97.6L237.9 97.0L236.3 96.4L234.4 95.8L232.2 95.1L229.9 94.3L227.9 93.5L226.1 92.5L224.3 91.6L222.9 90.5L221.8 89.4L220.8 88.3L220.1 87.2L219.6 86.1L219.4 85.0L219.2 83.9L219.1 82.8L219.2 81.7L219.4 80.6L219.7 79.6L220.1 78.5L220.4 77.5L220.8 76.5L221.3 75.5L222.1 74.6L223.2 73.9L224.6 73.3L226.2 72.8L228.1 72.5L230.6 72.5L232.7 72.5L234.7 72.4L236.6 72.4L238.1 72.3L239.1 71.9L239.7 71.3L240.2 70.7L240.8 70.1L241.4 69.5L242.0 68.9L242.7 68.4L243.5 68.0L244.5 67.7L246.0 68.0L248.1 68.8L250.7 70.1L253.4 71.8L256.1 73.5L257.8 74.5L259.1 75.1L260.1 75.4L260.8 75.5L261.5 75.6L262.2 75.7L262.7 75.7L263.3 75.7L263.8 75.6L264.2 75.5L264.7 75.4L265.1 75.3L265.5 75.2L266.0 75.0L266.4 74.9L266.8 74.8L267.2 74.7L267.7 74.6L268.1 74.5L268.5 74.4L268.9 74.3L269.3 74.2L269.7 74.1L270.1 74.0L270.5 73.9L270.9 73.7L271.3 73.6L271.7 73.4L272.1 73.3L272.5 73.1L272.9 72.9L273.3 72.7L273.7 72.5L274.1 72.2L274.5 72.0L275.0 71.7L275.4 71.4L275.8 71.1L276.3 70.8L276.8 70.4L277.3 70.0L277.8 69.7L278.3 69.3L278.9 68.8L279.4 68.4L280.0 67.9L280.7 67.1L281.6 65.3L282.5 63.6L283.6 61.9L284.7 60.1L286.0 58.1L287.4 55.9L288.8 54.3L290.1 53.0L291.4 52.0L292.6 51.3L293.8 51.0L294.9 50.7L296.0 50.6L297.0 50.7L297.9 51.0L298.8 51.4L299.6 51.9L300.4 52.4L301.2 53.0L302.0 53.6L302.7 54.2L303.4 54.9L304.0 55.6L304.6 56.4L305.2 57.1L305.9 57.7L306.5 58.4L307.2 59.0L307.8 59.7L308.5 60.3L309.1 60.9L309.8 61.5L310.5 62.1L311.2 62.7L312.0 63.2L312.7 63.8L313.4 64.4L314.2 64.9L315.1 65.4L316.0 65.9L316.8 66.5L317.5 67.2L318.1 67.9L318.7 68.6L319.2 69.4L319.7 70.2L320.1 71.0L320.4 72.0L320.4 72.9L320.4 74.0L320.3 75.0L319.8 76.1L319.1 77.4L318.3 78.5L317.5 79.7L316.7 80.8L315.9 81.8L315.4 82.8L315.0 83.6L314.6 84.5L314.4 85.3L314.2 86.1L314.2 86.8L314.1 87.5L314.1 88.2L314.0 89.0L314.0 89.7L314.0 90.4L314.7 91.0L316.8 91.7L318.2 92.4L319.7 93.1L322.2 94.0L324.9 94.9L327.2 95.9L329.2 97.0L330.9 98.2L332.4 99.4L333.8 100.6L334.9 101.8L335.9 103.1L336.8 104.4L337.6 105.8L338.3 107.1L338.9 108.5L339.3 109.8L339.6 111.2L339.9 112.5L340.2 113.9L340.3 115.3L340.3 116.7L340.2 118.0L340.0 119.3L339.7 120.6L339.4 121.9L339.0 123.1L338.5 124.4L338.0 125.6L337.4 126.8Z" fill="none" stroke="#3a2c18" stroke-width="0.55" stroke-opacity="0.8"/>
<path d="M285.4 159.4L284.0 159.5L282.6 159.6L281.2 159.5L279.8 159.4L278.4 159.2L277.1 159.0L275.7 158.7L274.3 158.4L273.0 157.9L271.7 157.3L270.4 156.7L269.2 155.9L268.0 155.1L266.8 154.2L265.7 153.3L264.6 152.3L263.6 151.2L262.6 149.9L261.7 148.6L260.9 147.2L260.1 145.7L259.5 144.1L258.9 142.3L258.5 140.3L258.3 138.2L258.2 135.8L258.4 133.1L258.6 130.6L258.6 128.8L258.4 127.4L258.1 126.4L257.6 125.7L257.1 125.0L256.6 124.4L256.1 123.9L255.5 123.4L254.9 122.9L254.4 122.5L253.8 122.1L253.1 121.7L252.5 121.3L251.8 121.0L251.2 120.6L250.5 120.2L249.6 120.1L248.4 120.2L247.2 120.3L246.2 120.2L245.2 120.0L244.3 119.7L243.6 119.2L243.0 118.6L242.6 118.0L242.1 117.3L241.7 116.6L241.3 115.9L241.0 115.2L240.7 114.4L240.6 113.5L240.5 112.7L240.4 111.9L240.3 111.1L240.2 110.3L240.2 109.5L240.1 108.7L240.1 107.9L240.0 107.1L239.9 106.4L239.2 105.9L236.1 106.1L232.4 106.3L228.8 106.4L225.7 106.3L223.2 105.9L221.8 105.1L220.7 104.3L219.8 103.4L219.1 102.4L218.6 101.4L218.3 100.3L218.2 99.2L218.1 98.1L218.0 97.1L217.9 96.0L217.9 94.9L218.0 93.8L218.3 92.7L218.8 91.7L219.4 90.6L220.0 89.6L220.9 88.6L221.9 87.7L223.1 86.8L224.5 86.0L226.1 85.3L227.9 84.6L229.6 84.0L231.3 83.5L233.0 83.0L234.6 82.6L236.3 82.2L238.1 81.9L239.8 81.7L241.3 81.4L242.6 81.2L243.9 80.9L245.1 80.7L246.0 80.4L246.7 80.0L247.4 79.7L248.0 79.3L248.5 78.9L249.0 78.5L249.3 78.0L249.6 77.4L249.9 76.9L250.1 76.3L250.3 75.8L250.5 75.2L250.7 74.5L250.8 73.9L251.0 73.2L250.9 72.3L250.5 71.1L250.1 69.9L249.7 68.6L249.3 67.2L248.8 65.6L248.2 63.9L247.4 61.8L246.6 59.6L246.0 57.6L245.6 55.7L245.4 53.8L245.4 52.1L245.6 50.6L245.9 49.2L246.3 47.9L247.0 46.9L247.7 46.0L248.5 45.2L249.4 44.4L250.4 43.8L251.4 43.3L252.5 42.9L253.5 42.5L254.6 42.1L255.7 41.8L256.8 41.5L258.0 41.6L259.3 42.0L260.7 42.6L262.1 43.4L263.5 44.7L265.0 46.5L266.4 48.1L267.7 49.5L268.9 50.9L269.9 51.9L270.9 52.4L271.7 52.5L272.6 52.5L273.4 52.5L274.3 52.6L275.2 52.8L276.0 53.0L276.8 53.3L277.7 53.8L278.4 55.1L279.1 57.1L279.6 59.9L279.9 62.9L280.1 65.9L280.4 67.9L280.7 69.1L281.1 70.1L281.4 70.7L281.8 71.3L282.1 71.8L282.5 72.2L282.8 72.6L283.2 72.9L283.6 73.2L283.9 73.5L284.3 73.7L284.7 74.0L285.0 74.2L285.4 74.5L285.7 74.7L286.1 75.0L286.4 75.2L286.8 75.5L287.1 75.7L287.4 75.9L287.8 76.2L288.1 76.4L288.5 76.6L288.8 76.8L289.2 77.1L289.5 77.3L289.9 77.5L290.3 77.6L290.7 77.8L291.1 78.0L291.5 78.2L292.0 78.3L292.4 78.5L292.9 78.6L293.4 78.8L293.9 78.9L294.5 79.0L295.0 79.2L295.6 79.3L296.2 79.4L296.8 79.6L297.5 79.7L298.2 79.9L298.9 80.0L299.6 80.2L300.8 80.1L302.8 79.7L304.8 79.3L306.9 79.0L309.0 78.7L311.5 78.4L314.2 78.1L316.4 78.1L318.3 78.3L319.9 78.6L321.3 79.1L322.3 79.7L323.2 80.4L324.0 81.1L324.6 81.9L324.9 82.8L325.1 83.7L325.2 84.6L325.2 85.6L325.2 86.5L325.2 87.4L325.2 88.3L325.0 89.3L324.8 90.2L324.6 91.1L324.4 92.0L324.3 92.9L324.1 93.8L324.0 94.6L323.9 95.5L323.7 96.4L323.6 97.3L323.5 98.1L323.5 99.0L323.5 99.9L323.5 100.8L323.5 101.7L323.5 102.6L323.5 103.5L323.6 104.5L323.7 105.5L323.8 106.4L323.7 107.3L323.4 108.2L323.2 109.1L322.9 110.0L322.5 110.9L322.1 111.7L321.5 112.4L320.7 113.1L319.9 113.7L318.9 114.3L317.7 114.6L316.2 114.9L314.7 115.0L313.3 115.2L311.9 115.2L310.5 115.3L309.4 115.5L308.5 115.8L307.5 116.0L306.7 116.3L306.0 116.7L305.3 117.1L304.7 117.5L304.1 117.9L303.5 118.4L302.9 118.8L302.3 119.3L302.2 120.1L303.0 122.1L303.2 123.6L303.5 125.2L304.4 127.5L305.3 130.1L305.9 132.4L306.2 134.6L306.4 136.6L306.3 138.4L306.1 140.2L305.8 141.8L305.4 143.3L304.9 144.8L304.3 146.2L303.6 147.6L302.8 148.8L301.9 150.0L301.0 151.1L300.1 152.2L299.1 153.2L298.0 154.2L296.9 155.0L295.7 155.8L294.5 156.5L293.3 157.0L292.0 157.6L290.7 158.1L289.4 158.5L288.1 158.9L286.7 159.2Z" fill="none" stroke="#3a2c18" stroke-width="0.55" stroke-opacity="0.8"/>
<path d="M227.2 141.1L226.3 140.2L225.4 139.2L224.5 138.1L223.8 137.0L223.1 135.9L222.4 134.7L221.8 133.6L221.2 132.4L220.8 131.1L220.4 129.8L220.2 128.4L220.0 127.0L220.0 125.6L219.9 124.2L220.0 122.8L220.2 121.4L220.5 119.9L220.9 118.4L221.4 116.9L222.0 115.5L222.8 114.0L223.8 112.5L224.9 111.0L226.3 109.4L228.0 107.9L229.9 106.4L232.3 104.8L234.4 103.4L235.9 102.3L237.0 101.3L237.5 100.4L237.9 99.6L238.1 98.8L238.3 98.1L238.3 97.4L238.4 96.7L238.5 95.9L238.5 95.2L238.4 94.5L238.4 93.8L238.3 93.1L238.2 92.4L238.1 91.7L237.9 91.0L237.5 90.2L236.7 89.4L235.8 88.6L235.3 87.8L234.9 86.9L234.5 86.0L234.5 85.2L234.7 84.5L234.9 83.7L235.1 82.9L235.4 82.2L235.8 81.5L236.2 80.8L236.7 80.1L237.3 79.5L238.0 78.9L238.6 78.3L239.2 77.7L239.8 77.2L240.4 76.6L241.1 76.1L241.7 75.6L242.3 75.1L242.8 74.5L242.8 73.6L240.7 71.5L238.2 69.0L235.8 66.4L234.0 64.0L232.8 61.8L232.5 60.3L232.6 59.0L232.8 57.8L233.1 56.7L233.7 55.7L234.4 54.8L235.2 54.1L236.0 53.3L236.9 52.6L237.7 51.8L238.6 51.1L239.5 50.5L240.6 50.1L241.8 49.8L243.1 49.6L244.3 49.4L245.7 49.4L247.1 49.6L248.5 49.9L250.1 50.4L251.7 51.2L253.3 52.1L254.9 53.0L256.4 53.9L257.8 54.8L259.2 55.8L260.6 56.8L261.9 58.0L263.2 59.1L264.3 60.0L265.4 60.8L266.4 61.6L267.3 62.3L268.1 62.8L268.9 63.1L269.6 63.4L270.3 63.6L271.0 63.8L271.6 63.8L272.2 63.8L272.8 63.7L273.4 63.5L274.1 63.3L274.7 63.1L275.3 62.9L275.9 62.6L276.6 62.3L277.2 62.0L277.9 61.4L278.6 60.3L279.4 59.3L280.2 58.2L281.1 57.0L282.1 55.7L283.2 54.1L284.4 52.2L285.7 50.3L287.0 48.6L288.4 47.1L289.8 45.8L291.2 44.7L292.5 43.9L293.9 43.3L295.2 42.8L296.5 42.7L297.7 42.7L298.9 42.7L300.0 42.9L301.1 43.2L302.2 43.7L303.2 44.2L304.2 44.7L305.2 45.3L306.1 45.9L307.1 46.5L307.8 47.5L308.3 48.7L308.6 50.1L308.8 51.6L308.6 53.5L308.1 55.8L307.6 57.8L307.2 59.6L306.8 61.3L306.6 62.7L306.8 63.7L307.3 64.4L307.8 65.1L308.3 65.7L308.8 66.4L309.2 67.1L309.6 67.9L309.8 68.7L309.9 69.6L309.3 71.0L308.0 72.7L306.1 74.8L303.8 76.9L301.4 79.0L300.0 80.4L299.1 81.4L298.5 82.3L298.2 82.9L298.0 83.5L297.8 84.1L297.6 84.6L297.5 85.1L297.5 85.6L297.5 86.1L297.5 86.5L297.5 86.9L297.6 87.3L297.6 87.8L297.6 88.2L297.6 88.6L297.6 89.0L297.6 89.4L297.6 89.8L297.7 90.2L297.7 90.6L297.7 91.0L297.7 91.4L297.7 91.8L297.8 92.2L297.8 92.6L297.9 93.0L298.0 93.4L298.0 93.8L298.1 94.2L298.3 94.6L298.4 95.0L298.5 95.5L298.7 95.9L298.9 96.3L299.0 96.8L299.3 97.3L299.5 97.7L299.7 98.2L300.0 98.7L300.2 99.3L300.5 99.8L300.8 100.4L301.1 101.0L301.4 101.6L301.8 102.3L302.5 103.1L304.2 104.3L305.7 105.6L307.2 106.9L308.8 108.3L310.6 110.0L312.6 111.8L314.0 113.4L315.0 114.9L315.7 116.3L316.1 117.6L316.3 118.7L316.3 119.8L316.2 120.8L315.9 121.8L315.3 122.5L314.7 123.2L314.0 123.9L313.3 124.5L312.5 125.1L311.7 125.7L310.9 126.2L310.1 126.7L309.2 127.1L308.3 127.5L307.4 127.9L306.6 128.4L305.8 128.8L305.0 129.3L304.1 129.7L303.3 130.2L302.6 130.6L301.8 131.1L301.0 131.6L300.3 132.2L299.5 132.7L298.8 133.3L298.0 133.8L297.3 134.4L296.6 135.1L295.8 135.8L295.1 136.5L294.2 136.9L293.4 137.3L292.5 137.7L291.5 138.0L290.6 138.3L289.7 138.5L288.7 138.5L287.6 138.4L286.6 138.1L285.5 137.8L284.5 137.1L283.4 136.1L282.3 135.1L281.3 134.2L280.4 133.2L279.5 132.2L278.6 131.5L277.8 131.0L277.0 130.4L276.2 130.0L275.5 129.7L274.7 129.5L274.0 129.3L273.2 129.1L272.5 128.9L271.8 128.7L271.0 128.6L270.2 129.0L269.1 130.9L268.1 132.0L266.9 133.2L265.5 135.3L263.9 137.6L262.4 139.4L260.8 141.0L259.2 142.4L257.7 143.5L256.1 144.5L254.6 145.2L253.0 145.9L251.5 146.4L249.9 146.9L248.4 147.2L246.9 147.4L245.4 147.5L243.9 147.5L242.4 147.5L240.9 147.4L239.5 147.2L238.1 146.9L236.7 146.5L235.4 146.1L234.1 145.5L232.9 144.9L231.7 144.3L230.5 143.6L229.3 142.8L228.2 142.0Z" fill="none" stroke="#3a2c18" stroke-width="0.55" stroke-opacity="0.8"/>
<path d="M206.1 86.8L206.3 85.5L206.6 84.2L206.9 83.0L207.4 81.7L207.9 80.5L208.4 79.3L209.0 78.1L209.6 76.9L210.4 75.8L211.3 74.7L212.3 73.7L213.3 72.7L214.4 71.8L215.6 70.9L216.8 70.1L218.1 69.3L219.5 68.6L221.0 68.0L222.5 67.5L224.2 67.0L225.9 66.7L227.7 66.4L229.7 66.3L231.8 66.4L234.1 66.7L236.5 67.1L239.3 67.9L241.8 68.6L243.7 69.0L245.2 69.2L246.3 69.0L247.2 68.8L247.9 68.5L248.6 68.2L249.3 67.8L249.9 67.4L250.6 67.0L251.1 66.5L251.7 66.0L252.2 65.6L252.8 65.1L253.3 64.6L253.8 64.0L254.3 63.5L254.7 62.7L254.8 61.6L255.0 60.4L255.4 59.5L255.8 58.6L256.3 57.9L256.9 57.3L257.7 57.0L258.5 56.7L259.3 56.4L260.1 56.1L260.9 55.9L261.7 55.8L262.6 55.8L263.5 55.9L264.4 55.9L265.2 56.0L266.1 56.1L266.9 56.2L267.8 56.3L268.6 56.5L269.4 56.6L270.2 56.7L271.0 56.8L271.7 56.2L272.2 53.4L272.7 50.0L273.4 46.6L274.3 43.8L275.3 41.5L276.3 40.4L277.5 39.6L278.6 39.0L279.8 38.5L280.9 38.3L282.1 38.3L283.2 38.4L284.4 38.6L285.5 38.7L286.6 38.9L287.8 39.1L288.9 39.4L289.9 39.9L290.9 40.6L291.8 41.4L292.7 42.3L293.6 43.2L294.3 44.4L295.0 45.7L295.5 47.1L295.9 48.8L296.1 50.6L296.4 52.3L296.6 54.0L296.7 55.6L296.8 57.3L296.8 58.9L296.7 60.6L296.5 62.2L296.5 63.6L296.4 64.9L296.4 66.2L296.4 67.3L296.5 68.2L296.7 68.9L296.9 69.6L297.2 70.3L297.5 70.9L297.8 71.4L298.3 71.8L298.7 72.2L299.2 72.5L299.8 72.9L300.3 73.2L300.9 73.5L301.5 73.8L302.2 74.1L302.8 74.4L303.8 74.5L305.1 74.4L306.5 74.3L307.9 74.2L309.4 74.2L311.1 74.1L313.1 73.9L315.4 73.6L317.8 73.3L320.0 73.3L322.1 73.4L324.1 73.6L325.9 73.9L327.4 74.4L328.8 75.0L329.9 75.7L330.9 76.5L331.6 77.4L332.3 78.4L332.9 79.3L333.3 80.4L333.6 81.4L333.8 82.5L334.0 83.5L334.1 84.6L334.2 85.7L334.3 86.8L333.9 87.9L333.2 89.0L332.2 90.1L331.1 91.2L329.5 92.3L327.2 93.3L325.3 94.2L323.6 95.0L321.9 95.8L320.6 96.5L319.8 97.3L319.6 98.1L319.4 98.9L319.2 99.7L318.9 100.4L318.6 101.2L318.1 101.9L317.6 102.6L316.9 103.2L315.4 103.6L313.2 103.8L310.2 103.6L307.0 103.3L303.8 102.8L301.8 102.6L300.4 102.7L299.3 102.7L298.6 102.9L297.9 103.1L297.3 103.3L296.8 103.6L296.3 103.8L295.9 104.1L295.6 104.4L295.2 104.6L294.9 104.9L294.5 105.2L294.2 105.5L293.8 105.7L293.5 106.0L293.2 106.3L292.9 106.5L292.5 106.8L292.2 107.1L291.9 107.3L291.6 107.6L291.3 107.9L290.9 108.1L290.6 108.4L290.3 108.7L290.0 109.0L289.8 109.3L289.5 109.6L289.2 109.9L288.9 110.2L288.7 110.6L288.4 111.0L288.1 111.4L287.9 111.8L287.6 112.2L287.4 112.6L287.1 113.1L286.8 113.6L286.6 114.1L286.3 114.6L286.0 115.2L285.7 115.7L285.4 116.3L285.1 117.0L284.8 117.6L284.6 118.7L284.6 120.6L284.5 122.6L284.4 124.5L284.2 126.6L284.0 129.0L283.7 131.5L283.2 133.5L282.6 135.2L281.9 136.6L281.1 137.8L280.2 138.5L279.3 139.2L278.4 139.8L277.4 140.2L276.4 140.3L275.5 140.2L274.5 140.1L273.5 140.0L272.6 139.8L271.6 139.6L270.7 139.3L269.8 138.9L268.9 138.5L268.0 138.1L267.1 137.8L266.2 137.4L265.3 137.1L264.4 136.8L263.5 136.5L262.7 136.2L261.8 135.9L260.9 135.6L260.0 135.4L259.1 135.1L258.2 134.9L257.2 134.7L256.3 134.5L255.4 134.3L254.4 134.2L253.3 134.2L252.3 134.0L251.4 133.7L250.5 133.3L249.6 132.8L248.8 132.4L248.0 131.9L247.2 131.3L246.6 130.5L246.1 129.7L245.6 128.7L245.3 127.8L245.2 126.5L245.3 125.1L245.4 123.8L245.6 122.4L245.8 121.1L246.1 119.8L246.1 118.8L246.1 117.8L246.0 116.9L245.9 116.1L245.7 115.3L245.4 114.6L245.1 113.9L244.8 113.3L244.5 112.6L244.2 112.0L243.8 111.4L242.9 111.0L240.7 111.3L239.2 111.3L237.4 111.2L234.8 111.4L231.9 111.7L229.4 111.7L227.1 111.6L225.0 111.2L223.1 110.8L221.4 110.2L219.8 109.6L218.3 108.8L216.9 108.0L215.5 107.2L214.3 106.2L213.2 105.2L212.2 104.2L211.2 103.1L210.3 102.0L209.5 100.8L208.7 99.7L208.1 98.4L207.5 97.2L207.1 95.9L206.8 94.7L206.5 93.4L206.3 92.1L206.1 90.8L206.0 89.4L206.0 88.1Z" fill="none" stroke="#3a2c18" stroke-width="0.55" stroke-opacity="0.8"/>
<text x="233.6" y="30.6" text-anchor="middle" font-family='"Liberation Sans", sans-serif' font-size="2.7" fill="#333">GO</text>
<text x="301" y="28.4" text-anchor="middle" font-family='"Liberation Sans", sans-serif' font-size="2.7" fill="#333">KEGG</text>
<text x="338.6" y="55.8" text-anchor="middle" font-family='"Liberation Sans", sans-serif' font-size="2.7" fill="#333">KOG</text>
<text x="338.5" y="135.2" text-anchor="middle" font-family='"Liberation Sans", sans-serif' font-size="2.7" fill="#333">NR</text>
<text x="289.5" y="162.8" text-anchor="middle" font-family='"Liberation Sans", sans-serif' font-size="2.7" fill="#333">NT</text>
<text x="219.7" y="148.2" text-anchor="middle" font-family='"Liberation Sans", sans-serif' font-size="2.7" fill="#333">Pfam</text>
<text x="209.3" y="67.4" text-anchor="middle" font-family='"Liberation Sans", sans-serif' font-size="2.7" fill="#333">Swissprot</text>
<text x="276.5" y="94.1" text-anchor="middle" font-family='"Liberation Sans", sans-serif' font-size="1.9" fill="#3a2c18">911</text>
<text x="294" y="39.9" text-anchor="middle" font-family='"Liberation Sans", sans-serif' font-size="1.9" fill="#3a2c18">888</text>
<text x="282.8" y="48" text-anchor="middle" font-family='"Liberation Sans", sans-serif' font-size="1.9" fill="#3a2c18">1068</text>
<text x="300" y="51.8" text-anchor="middle" font-family='"Liberation Sans", sans-serif' font-size="1.9" fill="#3a2c18">127</text>
<text x="290.2" y="54.2" text-anchor="middle" font-family='"Liberation Sans", sans-serif' font-size="1.9" fill="#3a2c18">201</text>
<text x="296.5" y="56.6" text-anchor="middle" font-family='"Liberation Sans", sans-serif' font-size="1.9" fill="#3a2c18">154</text>
<text x="287.1" y="72" text-anchor="middle" font-family='"Liberation Sans", sans-serif' font-size="1.9" fill="#3a2c18">1247</text>
<text x="288" y="66" text-anchor="middle" font-family='"Liberation Sans", sans-serif' font-size="1.9" fill="#3a2c18">2154</text>
<text x="330.8" y="73.3" text-anchor="middle" font-family='"Liberation Sans", sans-serif' font-size="1.9" fill="#3a2c18">1420</text>
<text x="325.3" y="86.2" text-anchor="middle" font-family='"Liberation Sans", sans-serif' font-size="1.9" fill="#3a2c18">2180</text>
<text x="326.9" y="124" text-anchor="middle" font-family='"Liberation Sans", sans-serif' font-size="1.9" fill="#3a2c18">1307</text>
<text x="282.9" y="150.7" text-anchor="middle" font-family='"Liberation Sans", sans-serif' font-size="1.9" fill="#3a2c18">266</text>
<text x="234.4" y="133.7" text-anchor="middle" font-family='"Liberation Sans", sans-serif' font-size="1.9" fill="#3a2c18">3003</text>
<text x="216" y="89" text-anchor="middle" font-family='"Liberation Sans", sans-serif' font-size="1.9" fill="#3a2c18">5144</text>
<text x="226.5" y="81.4" text-anchor="middle" font-family='"Liberation Sans", sans-serif' font-size="1.9" fill="#3a2c18">863</text>
<text x="225.7" y="98" text-anchor="middle" font-family='"Liberation Sans", sans-serif' font-size="1.9" fill="#3a2c18">8</text>
<text x="250.5" y="85.2" text-anchor="middle" font-family='"Liberation Sans", sans-serif' font-size="1.9" fill="#3a2c18">102</text>
<text x="253.2" y="106.6" text-anchor="middle" font-family='"Liberation Sans", sans-serif' font-size="1.9" fill="#3a2c18">364</text>
<text x="234" y="83.1" text-anchor="middle" font-family='"Liberation Sans", sans-serif' font-size="1.9" fill="#3a2c18">367</text>
<text x="240" y="84.6" text-anchor="middle" font-family='"Liberation Sans", sans-serif' font-size="1.9" fill="#3a2c18">1775</text>
<text x="233.7" y="120.8" text-anchor="middle" font-family='"Liberation Sans", sans-serif' font-size="1.9" fill="#3a2c18">721</text>
<text x="304.4" y="89.6" text-anchor="middle" font-family='"Liberation Sans", sans-serif' font-size="1.9" fill="#3a2c18">136</text>
<text x="272.3" y="117" text-anchor="middle" font-family='"Liberation Sans", sans-serif' font-size="1.9" fill="#3a2c18">130</text>
<text x="293" y="60.5" text-anchor="middle" font-family='"Liberation Sans", sans-serif' font-size="1.9" fill="#3a2c18">13</text>
<text x="299" y="63" text-anchor="middle" font-family='"Liberation Sans", sans-serif' font-size="1.9" fill="#3a2c18">39</text>
<text x="303.5" y="61" text-anchor="middle" font-family='"Liberation Sans", sans-serif' font-size="1.9" fill="#3a2c18">84</text>
<text x="306.5" y="66" text-anchor="middle" font-family='"Liberation Sans", sans-serif' font-size="1.9" fill="#3a2c18">64</text>
<text x="302" y="76" text-anchor="middle" font-family='"Liberation Sans", sans-serif' font-size="1.9" fill="#3a2c18">1</text>
<text x="309" y="78" text-anchor="middle" font-family='"Liberation Sans", sans-serif' font-size="1.9" fill="#3a2c18">12</text>
<text x="312" y="88" text-anchor="middle" font-family='"Liberation Sans", sans-serif' font-size="1.9" fill="#3a2c18">71</text>
<text x="318" y="89" text-anchor="middle" font-family='"Liberation Sans", sans-serif' font-size="1.9" fill="#3a2c18">14</text>
<text x="314" y="94" text-anchor="middle" font-family='"Liberation Sans", sans-serif' font-size="1.9" fill="#3a2c18">47</text>
<text x="231" y="92" text-anchor="middle" font-family='"Liberation Sans", sans-serif' font-size="1.9" fill="#3a2c18">54</text>
<text x="236.5" y="95.5" text-anchor="middle" font-family='"Liberation Sans", sans-serif' font-size="1.9" fill="#3a2c18">36</text>
<text x="241" y="93" text-anchor="middle" font-family='"Liberation Sans", sans-serif' font-size="1.9" fill="#3a2c18">97</text>
<text x="243.5" y="97.5" text-anchor="middle" font-family='"Liberation Sans", sans-serif' font-size="1.9" fill="#3a2c18">49</text>
<text x="238" y="101" text-anchor="middle" font-family='"Liberation Sans", sans-serif' font-size="1.9" fill="#3a2c18">45</text>
<text x="235" y="108" text-anchor="middle" font-family='"Liberation Sans", sans-serif' font-size="1.9" fill="#3a2c18">217</text>
<text x="240.5" y="112" text-anchor="middle" font-family='"Liberation Sans", sans-serif' font-size="1.9" fill="#3a2c18">1017</text>
<text x="246" y="109.5" text-anchor="middle" font-family='"Liberation Sans", sans-serif' font-size="1.9" fill="#3a2c18">4</text>
<text x="262" y="121" text-anchor="middle" font-family='"Liberation Sans", sans-serif' font-size="1.9" fill="#3a2c18">75</text>
<text x="268" y="124" text-anchor="middle" font-family='"Liberation Sans", sans-serif' font-size="1.9" fill="#3a2c18">82</text>
<text x="255" y="124" text-anchor="middle" font-family='"Liberation Sans", sans-serif' font-size="1.9" fill="#3a2c18">278</text>
<text x="252.5" y="133" text-anchor="middle" font-family='"Liberation Sans", sans-serif' font-size="1.9" fill="#3a2c18">883</text>
<text x="283" y="127" text-anchor="middle" font-family='"Liberation Sans", sans-serif' font-size="1.9" fill="#3a2c18">48</text>
<text x="289" y="120" text-anchor="middle" font-family='"Liberation Sans", sans-serif' font-size="1.9" fill="#3a2c18">7</text>
<text x="296" y="116" text-anchor="middle" font-family='"Liberation Sans", sans-serif' font-size="1.9" fill="#3a2c18">3</text>
<text x="301" y="122" text-anchor="middle" font-family='"Liberation Sans", sans-serif' font-size="1.9" fill="#3a2c18">5</text>
<text x="307" y="114" text-anchor="middle" font-family='"Liberation Sans", sans-serif' font-size="1.9" fill="#3a2c18">2</text>
</g>
<text x="10.6" y="11.7" font-family='"Liberation Serif", serif' font-size="11.5" fill="#111">a</text>
<text x="198.7" y="11.7" font-family='"Liberation Serif", serif' font-size="11.2" fill="#111">b</text>
<text x="373" y="11.8" font-family='"Liberation Serif", serif' font-size="11.5" font-weight="bold" fill="#111">c</text>
<text x="10.7" y="200.5" font-family='"Liberation Serif", serif' font-size="11" fill="#111">d</text>
<g id="pa">
<rect x="36.10" y="49.41" width="7.8" height="94.59" fill="#0A46A5"/>
<rect x="45.77" y="98.95" width="7.8" height="45.05" fill="#FF141E"/>
<rect x="55.44" y="119.01" width="7.8" height="24.99" fill="#0AAA32"/>
<rect x="65.11" y="128.20" width="7.8" height="15.80" fill="#9641AA"/>
<rect x="74.78" y="132.80" width="7.8" height="11.20" fill="#FF8214"/>
<rect x="84.45" y="135.91" width="7.8" height="8.08" fill="#000000"/>
<rect x="94.12" y="137.19" width="7.8" height="6.81" fill="#A5641E"/>
<rect x="103.79" y="138.22" width="7.8" height="5.78" fill="#192D6E"/>
<rect x="113.46" y="139.15" width="7.8" height="4.85" fill="#6E1E64"/>
<rect x="123.13" y="139.84" width="7.8" height="4.16" fill="#C3192D"/>
<rect x="132.80" y="140.30" width="7.8" height="3.70" fill="#0F643C"/>
<rect x="142.47" y="141.11" width="7.8" height="2.89" fill="#FFB47D"/>
<rect x="152.14" y="139.96" width="7.8" height="4.04" fill="#1EBE1E"/>
<rect x="161.81" y="133.26" width="7.8" height="10.74" fill="#87C3EB"/>
<path d="M33.3 28 V144.4 H193.4" fill="none" stroke="#222" stroke-width="0.9"/>
<path d="M30.299999999999997 144.00 H33.3" stroke="#222" stroke-width="0.8"/>
<text x="29.099999999999998" y="146.20" text-anchor="end" font-family='"Liberation Serif", serif' font-size="6.6" fill="#222">0</text>
<path d="M30.299999999999997 120.90 H33.3" stroke="#222" stroke-width="0.8"/>
<text x="29.099999999999998" y="123.10" text-anchor="end" font-family='"Liberation Serif", serif' font-size="6.6" textLength="14.6" lengthAdjust="spacingAndGlyphs" fill="#222">10000</text>
<path d="M30.299999999999997 97.80 H33.3" stroke="#222" stroke-width="0.8"/>
<text x="29.099999999999998" y="100.00" text-anchor="end" font-family='"Liberation Serif", serif' font-size="6.6" textLength="14.6" lengthAdjust="spacingAndGlyphs" fill="#222">20000</text>
<path d="M30.299999999999997 74.70 H33.3" stroke="#222" stroke-width="0.8"/>
<text x="29.099999999999998" y="76.90" text-anchor="end" font-family='"Liberation Serif", serif' font-size="6.6" textLength="14.6" lengthAdjust="spacingAndGlyphs" fill="#222">30000</text>
<path d="M30.299999999999997 51.60 H33.3" stroke="#222" stroke-width="0.8"/>
<text x="29.099999999999998" y="53.80" text-anchor="end" font-family='"Liberation Serif", serif' font-size="6.6" textLength="14.6" lengthAdjust="spacingAndGlyphs" fill="#222">40000</text>
<path d="M30.299999999999997 28.50 H33.3" stroke="#222" stroke-width="0.8"/>
<text x="29.099999999999998" y="30.70" text-anchor="end" font-family='"Liberation Serif", serif' font-size="6.6" textLength="14.6" lengthAdjust="spacingAndGlyphs" fill="#222">50000</text>
<path d="M40.00 144.0 V147.6" stroke="#222" stroke-width="0.8"/>
<text transform="translate(42.10 149.0) rotate(-90)" text-anchor="end" font-family='"Liberation Serif", serif' font-size="6.5" fill="#222">300-500</text>
<path d="M49.67 144.0 V147.6" stroke="#222" stroke-width="0.8"/>
<text transform="translate(51.77 149.0) rotate(-90)" text-anchor="end" font-family='"Liberation Serif", serif' font-size="6.5" fill="#222">500-700</text>
<path d="M59.34 144.0 V147.6" stroke="#222" stroke-width="0.8"/>
<text transform="translate(61.44 149.0) rotate(-90)" text-anchor="end" font-family='"Liberation Serif", serif' font-size="6.5" fill="#222">700-900</text>
<path d="M69.01 144.0 V147.6" stroke="#222" stroke-width="0.8"/>
<text transform="translate(71.11 149.0) rotate(-90)" text-anchor="end" font-family='"Liberation Serif", serif' font-size="6.5" fill="#222">900-1100</text>
<path d="M78.68 144.0 V147.6" stroke="#222" stroke-width="0.8"/>
<text transform="translate(80.78 149.0) rotate(-90)" text-anchor="end" font-family='"Liberation Serif", serif' font-size="6.5" fill="#222">1100-1300</text>
<path d="M88.35 144.0 V147.6" stroke="#222" stroke-width="0.8"/>
<text transform="translate(90.45 149.0) rotate(-90)" text-anchor="end" font-family='"Liberation Serif", serif' font-size="6.5" fill="#222">1300-1500</text>
<path d="M98.02 144.0 V147.6" stroke="#222" stroke-width="0.8"/>
<text transform="translate(100.12 149.0) rotate(-90)" text-anchor="end" font-family='"Liberation Serif", serif' font-size="6.5" fill="#222">1500-1700</text>
<path d="M107.69 144.0 V147.6" stroke="#222" stroke-width="0.8"/>
<text transform="translate(109.79 149.0) rotate(-90)" text-anchor="end" font-family='"Liberation Serif", serif' font-size="6.5" fill="#222">1700-1900</text>
<path d="M117.36 144.0 V147.6" stroke="#222" stroke-width="0.8"/>
<text transform="translate(119.46 149.0) rotate(-90)" text-anchor="end" font-family='"Liberation Serif", serif' font-size="6.5" fill="#222">1900-2100</text>
<path d="M127.03 144.0 V147.6" stroke="#222" stroke-width="0.8"/>
<text transform="translate(129.13 149.0) rotate(-90)" text-anchor="end" font-family='"Liberation Serif", serif' font-size="6.5" fill="#222">2100-2300</text>
<path d="M136.70 144.0 V147.6" stroke="#222" stroke-width="0.8"/>
<text transform="translate(138.80 149.0) rotate(-90)" text-anchor="end" font-family='"Liberation Serif", serif' font-size="6.5" fill="#222">2300-2500</text>
<path d="M146.37 144.0 V147.6" stroke="#222" stroke-width="0.8"/>
<text transform="translate(148.47 149.0) rotate(-90)" text-anchor="end" font-family='"Liberation Serif", serif' font-size="6.5" fill="#222">2500-2700</text>
<path d="M156.04 144.0 V147.6" stroke="#222" stroke-width="0.8"/>
<text transform="translate(158.14 149.0) rotate(-90)" text-anchor="end" font-family='"Liberation Serif", serif' font-size="6.5" fill="#222">2700-3000</text>
<path d="M165.71 144.0 V147.6" stroke="#222" stroke-width="0.8"/>
<text transform="translate(167.81 149.0) rotate(-90)" text-anchor="end" font-family='"Liberation Serif", serif' font-size="6.5" fill="#222">3000+</text>
<path d="M175.38 144.0 V147.6" stroke="#222" stroke-width="0.8"/>
<path d="M185.05 144.0 V147.6" stroke="#222" stroke-width="0.8"/>
<text transform="translate(8.5 90.5) rotate(-90)" text-anchor="middle" font-family='"Liberation Serif", serif' font-size="6.2" fill="#222">Unigenes Number</text>
<text x="108" y="182.2" text-anchor="middle" font-family='"Liberation Serif", serif' font-size="6.3" fill="#222">Length(bp)</text>
</g>
<g id="pc">
<rect x="416.7" y="41.20" width="34.68" height="3.2" fill="#EE1C6E" stroke="#222" stroke-width="0.25"/>
<text x="414.40" y="43.70" text-anchor="end" font-family='"Liberation Sans", sans-serif' font-size="2.62" fill="#111">Environmental adaptation</text>
<text x="452.58" y="43.65" font-family='"Liberation Sans", sans-serif' font-size="2.3" fill="#222">427</text>
<rect x="416.7" y="47.07" width="65.23" height="3.2" fill="#3B3490" stroke="#222" stroke-width="0.25"/>
<text x="414.40" y="49.57" text-anchor="end" font-family='"Liberation Sans", sans-serif' font-size="2.62" fill="#111">Overview</text>
<text x="483.13" y="49.52" font-family='"Liberation Sans", sans-serif' font-size="2.3" fill="#222">804</text>
<rect x="416.7" y="52.94" width="27.05" height="3.2" fill="#3B3490" stroke="#222" stroke-width="0.25"/>
<text x="414.40" y="55.44" text-anchor="end" font-family='"Liberation Sans", sans-serif' font-size="2.62" fill="#111">Nucleotide metabolism</text>
<text x="444.95" y="55.39" font-family='"Liberation Sans", sans-serif' font-size="2.3" fill="#222">333</text>
<rect x="416.7" y="58.81" width="21.25" height="3.2" fill="#3B3490" stroke="#222" stroke-width="0.25"/>
<text x="414.40" y="61.31" text-anchor="end" font-family='"Liberation Sans", sans-serif' font-size="2.62" fill="#111">Metabolism of terpenoids and polyketides</text>
<text x="439.15" y="61.26" font-family='"Liberation Sans", sans-serif' font-size="2.3" fill="#222">262</text>
<rect x="416.7" y="64.68" width="21.25" height="3.2" fill="#3B3490" stroke="#222" stroke-width="0.25"/>
<text x="414.40" y="67.18" text-anchor="end" font-family='"Liberation Sans", sans-serif' font-size="2.62" fill="#111">Metabolism of other amino acids</text>
<text x="439.15" y="67.13" font-family='"Liberation Sans", sans-serif' font-size="2.3" fill="#222">262</text>
<rect x="416.7" y="70.55" width="23.18" height="3.2" fill="#3B3490" stroke="#222" stroke-width="0.25"/>
<text x="414.40" y="73.05" text-anchor="end" font-family='"Liberation Sans", sans-serif' font-size="2.62" fill="#111">Metabolism of cofactors and vitamins</text>
<text x="441.08" y="73.00" font-family='"Liberation Sans", sans-serif' font-size="2.3" fill="#222">286</text>
<rect x="416.7" y="76.42" width="52.81" height="3.2" fill="#3B3490" stroke="#222" stroke-width="0.25"/>
<text x="414.40" y="78.92" text-anchor="end" font-family='"Liberation Sans", sans-serif' font-size="2.62" fill="#111">Lipid metabolism</text>
<text x="470.71" y="78.87" font-family='"Liberation Sans", sans-serif' font-size="2.3" fill="#222">651</text>
<rect x="416.7" y="82.29" width="11.22" height="3.2" fill="#3B3490" stroke="#222" stroke-width="0.25"/>
<text x="414.40" y="84.79" text-anchor="end" font-family='"Liberation Sans", sans-serif' font-size="2.62" fill="#111">Glycan biosynthesis and metabolism</text>
<text x="429.12" y="84.74" font-family='"Liberation Sans", sans-serif' font-size="2.3" fill="#222">138</text>
<rect x="416.7" y="88.16" width="37.81" height="3.2" fill="#3B3490" stroke="#222" stroke-width="0.25"/>
<text x="414.40" y="90.66" text-anchor="end" font-family='"Liberation Sans", sans-serif' font-size="2.62" fill="#111">Energy metabolism</text>
<text x="455.71" y="90.61" font-family='"Liberation Sans", sans-serif' font-size="2.3" fill="#222">466</text>
<rect x="416.7" y="94.03" width="85.65" height="3.2" fill="#3B3490" stroke="#222" stroke-width="0.25"/>
<text x="414.40" y="96.53" text-anchor="end" font-family='"Liberation Sans", sans-serif' font-size="2.62" fill="#111">Carbohydrate metabolism</text>
<text x="503.55" y="96.48" font-family='"Liberation Sans", sans-serif' font-size="2.3" fill="#222">1056</text>
<rect x="416.7" y="99.90" width="24.66" height="3.2" fill="#3B3490" stroke="#222" stroke-width="0.25"/>
<text x="414.40" y="102.40" text-anchor="end" font-family='"Liberation Sans", sans-serif' font-size="2.62" fill="#111">Biosynthesis of other secondary metabolites</text>
<text x="442.56" y="102.35" font-family='"Liberation Sans", sans-serif' font-size="2.3" fill="#222">304</text>
<rect x="416.7" y="105.77" width="52.44" height="3.2" fill="#3B3490" stroke="#222" stroke-width="0.25"/>
<text x="414.40" y="108.27" text-anchor="end" font-family='"Liberation Sans", sans-serif' font-size="2.62" fill="#111">Amino acid metabolism</text>
<text x="470.34" y="108.22" font-family='"Liberation Sans", sans-serif' font-size="2.3" fill="#222">646</text>
<rect x="416.7" y="111.64" width="77.92" height="3.2" fill="#1EB4F0" stroke="#222" stroke-width="0.25"/>
<text x="414.40" y="114.14" text-anchor="end" font-family='"Liberation Sans", sans-serif' font-size="2.62" fill="#111">Translation</text>
<text x="495.82" y="114.09" font-family='"Liberation Sans", sans-serif' font-size="2.3" fill="#222">960</text>
<rect x="416.7" y="117.51" width="30.08" height="3.2" fill="#1EB4F0" stroke="#222" stroke-width="0.25"/>
<text x="414.40" y="120.01" text-anchor="end" font-family='"Liberation Sans", sans-serif' font-size="2.62" fill="#111">Transcription</text>
<text x="447.98" y="119.96" font-family='"Liberation Sans", sans-serif' font-size="2.3" fill="#222">371</text>
<rect x="416.7" y="123.38" width="15.09" height="3.2" fill="#1EB4F0" stroke="#222" stroke-width="0.25"/>
<text x="414.40" y="125.88" text-anchor="end" font-family='"Liberation Sans", sans-serif' font-size="2.62" fill="#111">Replication and repair</text>
<text x="432.99" y="125.83" font-family='"Liberation Sans", sans-serif' font-size="2.3" fill="#222">186</text>
<rect x="416.7" y="129.25" width="63.30" height="3.2" fill="#1EB4F0" stroke="#222" stroke-width="0.25"/>
<text x="414.40" y="131.75" text-anchor="end" font-family='"Liberation Sans", sans-serif' font-size="2.62" fill="#111">Folding, sorting and degradation</text>
<text x="481.20" y="131.70" font-family='"Liberation Sans", sans-serif' font-size="2.3" fill="#222">780</text>
<rect x="416.7" y="135.12" width="26.22" height="3.2" fill="#1EAA1E" stroke="#222" stroke-width="0.25"/>
<text x="414.40" y="137.62" text-anchor="end" font-family='"Liberation Sans", sans-serif' font-size="2.62" fill="#111">Signal transduction</text>
<text x="444.12" y="137.57" font-family='"Liberation Sans", sans-serif' font-size="2.3" fill="#222">323</text>
<rect x="416.7" y="140.99" width="6.16" height="3.2" fill="#1EAA1E" stroke="#222" stroke-width="0.25"/>
<text x="414.40" y="143.49" text-anchor="end" font-family='"Liberation Sans", sans-serif' font-size="2.62" fill="#111">Membrane transport</text>
<text x="424.06" y="143.44" font-family='"Liberation Sans", sans-serif' font-size="2.3" fill="#222">76</text>
<rect x="416.7" y="146.86" width="48.94" height="3.2" fill="#F7C515" stroke="#222" stroke-width="0.25"/>
<text x="414.40" y="149.36" text-anchor="end" font-family='"Liberation Sans", sans-serif' font-size="2.62" fill="#111">Transport and catabolism</text>
<text x="466.84" y="149.31" font-family='"Liberation Sans", sans-serif' font-size="2.3" fill="#222">603</text>
<text x="481" y="31.5" text-anchor="middle" font-family='"Liberation Sans", sans-serif' font-weight="bold" font-size="3.05" fill="#111">KEGG Classification</text>
<path d="M416.7 154.5 H545.50" stroke="#444" stroke-width="0.45"/>
<path d="M416.70 154.5 V156.4" stroke="#444" stroke-width="0.45"/>
<text x="416.70" y="160.4" text-anchor="middle" font-family='"Liberation Sans", sans-serif' font-size="2.6" fill="#111">0</text>
<path d="M435.10 154.5 V156.4" stroke="#444" stroke-width="0.45"/>
<text x="435.10" y="160.4" text-anchor="middle" font-family='"Liberation Sans", sans-serif' font-size="2.6" fill="#111">2</text>
<path d="M453.50 154.5 V156.4" stroke="#444" stroke-width="0.45"/>
<text x="453.50" y="160.4" text-anchor="middle" font-family='"Liberation Sans", sans-serif' font-size="2.6" fill="#111">4</text>
<path d="M471.90 154.5 V156.4" stroke="#444" stroke-width="0.45"/>
<text x="471.90" y="160.4" text-anchor="middle" font-family='"Liberation Sans", sans-serif' font-size="2.6" fill="#111">6</text>
<path d="M490.30 154.5 V156.4" stroke="#444" stroke-width="0.45"/>
<text x="490.30" y="160.4" text-anchor="middle" font-family='"Liberation Sans", sans-serif' font-size="2.6" fill="#111">8</text>
<path d="M508.70 154.5 V156.4" stroke="#444" stroke-width="0.45"/>
<text x="508.70" y="160.4" text-anchor="middle" font-family='"Liberation Sans", sans-serif' font-size="2.6" fill="#111">10</text>
<path d="M527.10 154.5 V156.4" stroke="#444" stroke-width="0.45"/>
<text x="527.10" y="160.4" text-anchor="middle" font-family='"Liberation Sans", sans-serif' font-size="2.6" fill="#111">12</text>
<path d="M545.50 154.5 V156.4" stroke="#444" stroke-width="0.45"/>
<text x="545.50" y="160.4" text-anchor="middle" font-family='"Liberation Sans", sans-serif' font-size="2.6" fill="#111">14</text>
<text x="481" y="164.1" text-anchor="middle" font-family='"Liberation Sans", sans-serif' font-size="2.64" fill="#111">Percent of Genes (%)</text>
<path d="M508.3 41.30 V45.30" stroke="#EE1C6E" stroke-width="0.6"/>
<text x="512.5" y="41.20" font-family='"Liberation Sans", sans-serif' font-size="2.5" fill="#111">E</text>
<path d="M508.3 45.30 V107.80" stroke="#3B3490" stroke-width="0.6"/>
<text x="512.5" y="74.45" font-family='"Liberation Sans", sans-serif' font-size="2.5" fill="#111">D</text>
<path d="M508.3 110.10 V131.40" stroke="#1EB4F0" stroke-width="0.6"/>
<text x="512.5" y="118.65" font-family='"Liberation Sans", sans-serif' font-size="2.5" fill="#111">C</text>
<path d="M508.3 133.20 V142.60" stroke="#1EAA1E" stroke-width="0.6"/>
<text x="512.5" y="135.80" font-family='"Liberation Sans", sans-serif' font-size="2.5" fill="#111">B</text>
<path d="M508.3 145.00 V149.00" stroke="#F7C515" stroke-width="0.6"/>
<text x="512.5" y="144.90" font-family='"Liberation Sans", sans-serif' font-size="2.5" fill="#111">A</text>
</g>
<g id="pd">
<text x="48.2" y="210.1" font-family='"Liberation Sans", sans-serif' font-size="8.8" textLength="115.5" lengthAdjust="spacingAndGlyphs" fill="#111">Gene Function Classification (GO)</text>
<rect x="48.0" y="223.5" width="215.53" height="10.1" fill="#fff" stroke="#222" stroke-width="0.7"/>
<text x="155.76" y="230.6" text-anchor="middle" font-family='"Liberation Sans", sans-serif' font-size="5.25" fill="#1a1a1a">Biological Process</text>
<rect x="49.42" y="358.20" width="8.3" height="1.10" fill="#FF726C" fill-opacity="0.66"/>
<path d="M53.57 364.85 V366.8" stroke="#333" stroke-width="0.55"/>
<text transform="translate(55.47 372.0) rotate(-61.5)" text-anchor="end" font-family='"Liberation Sans", sans-serif' font-size="4.9" fill="#4d4d4d">behavior</text>
<rect x="58.71" y="358.20" width="8.3" height="1.10" fill="#FF726C" fill-opacity="0.66"/>
<path d="M62.86 364.85 V366.8" stroke="#333" stroke-width="0.55"/>
<text transform="translate(64.76 372.0) rotate(-61.5)" text-anchor="end" font-family='"Liberation Sans", sans-serif' font-size="4.9" fill="#4d4d4d">biological adhesion</text>
<rect x="68.00" y="332.35" width="8.3" height="26.45" fill="#FF726C" fill-opacity="1.00"/>
<path d="M72.15 364.85 V366.8" stroke="#333" stroke-width="0.55"/>
<text transform="translate(74.05 372.0) rotate(-61.5)" text-anchor="end" font-family='"Liberation Sans", sans-serif' font-size="4.9" fill="#4d4d4d">biological regulation</text>
<rect x="77.29" y="358.20" width="8.3" height="1.10" fill="#FF726C" fill-opacity="0.15"/>
<path d="M81.44 364.85 V366.8" stroke="#333" stroke-width="0.55"/>
<text transform="translate(83.34 372.0) rotate(-61.5)" text-anchor="end" font-family='"Liberation Sans", sans-serif' font-size="4.9" fill="#4d4d4d">cell killing</text>
<rect x="86.58" y="342.12" width="8.3" height="16.68" fill="#FF726C" fill-opacity="1.00"/>
<path d="M90.73 364.85 V366.8" stroke="#333" stroke-width="0.55"/>
<text transform="translate(92.63 372.0) rotate(-61.5)" text-anchor="end" font-family='"Liberation Sans", sans-serif' font-size="4.9" fill="#4d4d4d">cellular component organization or biogenesis</text>
<rect x="95.87" y="269.04" width="8.3" height="89.76" fill="#FF726C" fill-opacity="1.00"/>
<path d="M100.02 364.85 V366.8" stroke="#333" stroke-width="0.55"/>
<text transform="translate(101.92 372.0) rotate(-61.5)" text-anchor="end" font-family='"Liberation Sans", sans-serif' font-size="4.9" fill="#4d4d4d">cellular process</text>
<rect x="105.16" y="349.03" width="8.3" height="9.77" fill="#FF726C" fill-opacity="1.00"/>
<path d="M109.31 364.85 V366.8" stroke="#333" stroke-width="0.55"/>
<text transform="translate(111.21 372.0) rotate(-61.5)" text-anchor="end" font-family='"Liberation Sans", sans-serif' font-size="4.9" fill="#4d4d4d">developmental process</text>
<rect x="114.45" y="358.20" width="8.3" height="1.10" fill="#FF726C" fill-opacity="0.66"/>
<path d="M118.60 364.85 V366.8" stroke="#333" stroke-width="0.55"/>
<text transform="translate(120.50 372.0) rotate(-61.5)" text-anchor="end" font-family='"Liberation Sans", sans-serif' font-size="4.9" fill="#4d4d4d">growth</text>
<rect x="123.74" y="356.48" width="8.3" height="2.32" fill="#FF726C" fill-opacity="1.00"/>
<path d="M127.89 364.85 V366.8" stroke="#333" stroke-width="0.55"/>
<text transform="translate(129.79 372.0) rotate(-61.5)" text-anchor="end" font-family='"Liberation Sans", sans-serif' font-size="4.9" fill="#4d4d4d">immune system process</text>
<rect x="133.03" y="339.90" width="8.3" height="18.90" fill="#FF726C" fill-opacity="1.00"/>
<path d="M137.18 364.85 V366.8" stroke="#333" stroke-width="0.55"/>
<text transform="translate(139.08 372.0) rotate(-61.5)" text-anchor="end" font-family='"Liberation Sans", sans-serif' font-size="4.9" fill="#4d4d4d">localization</text>
<rect x="142.32" y="358.20" width="8.3" height="1.10" fill="#FF726C" fill-opacity="0.99"/>
<path d="M146.47 364.85 V366.8" stroke="#333" stroke-width="0.55"/>
<text transform="translate(148.37 372.0) rotate(-61.5)" text-anchor="end" font-family='"Liberation Sans", sans-serif' font-size="4.9" fill="#4d4d4d">locomotion</text>
<rect x="151.61" y="277.30" width="8.3" height="81.50" fill="#FF726C" fill-opacity="1.00"/>
<path d="M155.76 364.85 V366.8" stroke="#333" stroke-width="0.55"/>
<text transform="translate(157.66 372.0) rotate(-61.5)" text-anchor="end" font-family='"Liberation Sans", sans-serif' font-size="4.9" fill="#4d4d4d">metabolic process</text>
<rect x="160.90" y="348.53" width="8.3" height="10.27" fill="#FF726C" fill-opacity="1.00"/>
<path d="M165.05 364.85 V366.8" stroke="#333" stroke-width="0.55"/>
<text transform="translate(166.95 372.0) rotate(-61.5)" text-anchor="end" font-family='"Liberation Sans", sans-serif' font-size="4.9" fill="#4d4d4d">multi-organism process</text>
<rect x="170.19" y="355.37" width="8.3" height="3.43" fill="#FF726C" fill-opacity="1.00"/>
<path d="M174.34 364.85 V366.8" stroke="#333" stroke-width="0.55"/>
<text transform="translate(176.24 372.0) rotate(-61.5)" text-anchor="end" font-family='"Liberation Sans", sans-serif' font-size="4.9" fill="#4d4d4d">multicellular organismal process</text>
<rect x="179.48" y="353.92" width="8.3" height="4.88" fill="#FF726C" fill-opacity="1.00"/>
<path d="M183.63 364.85 V366.8" stroke="#333" stroke-width="0.55"/>
<text transform="translate(185.53 372.0) rotate(-61.5)" text-anchor="end" font-family='"Liberation Sans", sans-serif' font-size="4.9" fill="#4d4d4d">negative regulation of biological process</text>
<rect x="188.77" y="351.28" width="8.3" height="7.52" fill="#FF726C" fill-opacity="1.00"/>
<path d="M192.92 364.85 V366.8" stroke="#333" stroke-width="0.55"/>
<text transform="translate(194.82 372.0) rotate(-61.5)" text-anchor="end" font-family='"Liberation Sans", sans-serif' font-size="4.9" fill="#4d4d4d">positive regulation of biological process</text>
<rect x="198.06" y="333.80" width="8.3" height="25.00" fill="#FF726C" fill-opacity="1.00"/>
<path d="M202.21 364.85 V366.8" stroke="#333" stroke-width="0.55"/>
<text transform="translate(204.11 372.0) rotate(-61.5)" text-anchor="end" font-family='"Liberation Sans", sans-serif' font-size="4.9" fill="#4d4d4d">regulation of biological process</text>
<rect x="207.35" y="357.48" width="8.3" height="1.32" fill="#FF726C" fill-opacity="1.00"/>
<path d="M211.50 364.85 V366.8" stroke="#333" stroke-width="0.55"/>
<text transform="translate(213.40 372.0) rotate(-61.5)" text-anchor="end" font-family='"Liberation Sans", sans-serif' font-size="4.9" fill="#4d4d4d">reproduction</text>
<rect x="216.64" y="357.08" width="8.3" height="1.72" fill="#FF726C" fill-opacity="1.00"/>
<path d="M220.79 364.85 V366.8" stroke="#333" stroke-width="0.55"/>
<text transform="translate(222.69 372.0) rotate(-61.5)" text-anchor="end" font-family='"Liberation Sans", sans-serif' font-size="4.9" fill="#4d4d4d">reproductive process</text>
<rect x="225.93" y="338.26" width="8.3" height="20.54" fill="#FF726C" fill-opacity="1.00"/>
<path d="M230.08 364.85 V366.8" stroke="#333" stroke-width="0.55"/>
<text transform="translate(231.98 372.0) rotate(-61.5)" text-anchor="end" font-family='"Liberation Sans", sans-serif' font-size="4.9" fill="#4d4d4d">response to stimulus</text>
<rect x="235.22" y="358.20" width="8.3" height="1.10" fill="#FF726C" fill-opacity="0.18"/>
<path d="M239.37 364.85 V366.8" stroke="#333" stroke-width="0.55"/>
<text transform="translate(241.27 372.0) rotate(-61.5)" text-anchor="end" font-family='"Liberation Sans", sans-serif' font-size="4.9" fill="#4d4d4d">rhythmic process</text>
<rect x="244.51" y="346.13" width="8.3" height="12.67" fill="#FF726C" fill-opacity="1.00"/>
<path d="M248.66 364.85 V366.8" stroke="#333" stroke-width="0.55"/>
<text transform="translate(250.56 372.0) rotate(-61.5)" text-anchor="end" font-family='"Liberation Sans", sans-serif' font-size="4.9" fill="#4d4d4d">signaling</text>
<rect x="253.80" y="301.27" width="8.3" height="57.53" fill="#FF726C" fill-opacity="1.00"/>
<path d="M257.95 364.85 V366.8" stroke="#333" stroke-width="0.55"/>
<text transform="translate(259.85 372.0) rotate(-61.5)" text-anchor="end" font-family='"Liberation Sans", sans-serif' font-size="4.9" fill="#4d4d4d">single-organism process</text>
<path d="M48.0 364.85 H263.53" stroke="#333" stroke-width="0.95"/>
<rect x="267.4" y="223.5" width="169.08" height="10.1" fill="#fff" stroke="#222" stroke-width="0.7"/>
<text x="351.94" y="230.6" text-anchor="middle" font-family='"Liberation Sans", sans-serif' font-size="5.25" fill="#1a1a1a">Cellular Component</text>
<rect x="268.82" y="288.76" width="8.3" height="70.04" fill="#00AA32" fill-opacity="1.00"/>
<path d="M272.97 364.85 V366.8" stroke="#333" stroke-width="0.55"/>
<text transform="translate(274.87 372.0) rotate(-61.5)" text-anchor="end" font-family='"Liberation Sans", sans-serif' font-size="4.9" fill="#4d4d4d">cell</text>
<rect x="278.11" y="357.48" width="8.3" height="1.32" fill="#00AA32" fill-opacity="1.00"/>
<path d="M282.26 364.85 V366.8" stroke="#333" stroke-width="0.55"/>
<text transform="translate(284.16 372.0) rotate(-61.5)" text-anchor="end" font-family='"Liberation Sans", sans-serif' font-size="4.9" fill="#4d4d4d">cell junction</text>
<rect x="287.40" y="290.08" width="8.3" height="68.72" fill="#00AA32" fill-opacity="1.00"/>
<path d="M291.55 364.85 V366.8" stroke="#333" stroke-width="0.55"/>
<text transform="translate(293.45 372.0) rotate(-61.5)" text-anchor="end" font-family='"Liberation Sans", sans-serif' font-size="4.9" fill="#4d4d4d">cell part</text>
<rect x="296.69" y="354.21" width="8.3" height="4.59" fill="#00AA32" fill-opacity="1.00"/>
<path d="M300.84 364.85 V366.8" stroke="#333" stroke-width="0.55"/>
<text transform="translate(302.74 372.0) rotate(-61.5)" text-anchor="end" font-family='"Liberation Sans", sans-serif' font-size="4.9" fill="#4d4d4d">extracellular region</text>
<rect x="305.98" y="354.21" width="8.3" height="4.59" fill="#00AA32" fill-opacity="1.00"/>
<path d="M310.13 364.85 V366.8" stroke="#333" stroke-width="0.55"/>
<text transform="translate(312.03 372.0) rotate(-61.5)" text-anchor="end" font-family='"Liberation Sans", sans-serif' font-size="4.9" fill="#4d4d4d">extracellular region part</text>
<rect x="315.27" y="325.75" width="8.3" height="33.05" fill="#00AA32" fill-opacity="1.00"/>
<path d="M319.42 364.85 V366.8" stroke="#333" stroke-width="0.55"/>
<text transform="translate(321.32 372.0) rotate(-61.5)" text-anchor="end" font-family='"Liberation Sans", sans-serif' font-size="4.9" fill="#4d4d4d">macromolecular complex</text>
<rect x="324.56" y="342.78" width="8.3" height="16.02" fill="#00AA32" fill-opacity="1.00"/>
<path d="M328.71 364.85 V366.8" stroke="#333" stroke-width="0.55"/>
<text transform="translate(330.61 372.0) rotate(-61.5)" text-anchor="end" font-family='"Liberation Sans", sans-serif' font-size="4.9" fill="#4d4d4d">membrane</text>
<rect x="333.85" y="351.28" width="8.3" height="7.52" fill="#00AA32" fill-opacity="1.00"/>
<path d="M338.00 364.85 V366.8" stroke="#333" stroke-width="0.55"/>
<text transform="translate(339.90 372.0) rotate(-61.5)" text-anchor="end" font-family='"Liberation Sans", sans-serif' font-size="4.9" fill="#4d4d4d">membrane-enclosed lumen</text>
<rect x="343.14" y="346.05" width="8.3" height="12.75" fill="#00AA32" fill-opacity="1.00"/>
<path d="M347.29 364.85 V366.8" stroke="#333" stroke-width="0.55"/>
<text transform="translate(349.19 372.0) rotate(-61.5)" text-anchor="end" font-family='"Liberation Sans", sans-serif' font-size="4.9" fill="#4d4d4d">membrane part</text>
<rect x="352.43" y="358.20" width="8.3" height="1.10" fill="#00AA32" fill-opacity="0.26"/>
<path d="M356.58 364.85 V366.8" stroke="#333" stroke-width="0.55"/>
<text transform="translate(358.48 372.0) rotate(-61.5)" text-anchor="end" font-family='"Liberation Sans", sans-serif' font-size="4.9" fill="#4d4d4d">nucleoid</text>
<rect x="361.72" y="308.40" width="8.3" height="50.40" fill="#00AA32" fill-opacity="1.00"/>
<path d="M365.87 364.85 V366.8" stroke="#333" stroke-width="0.55"/>
<text transform="translate(367.77 372.0) rotate(-61.5)" text-anchor="end" font-family='"Liberation Sans", sans-serif' font-size="4.9" fill="#4d4d4d">organelle</text>
<rect x="371.01" y="330.00" width="8.3" height="28.80" fill="#00AA32" fill-opacity="1.00"/>
<path d="M375.16 364.85 V366.8" stroke="#333" stroke-width="0.55"/>
<text transform="translate(377.06 372.0) rotate(-61.5)" text-anchor="end" font-family='"Liberation Sans", sans-serif' font-size="4.9" fill="#4d4d4d">organelle part</text>
<rect x="380.30" y="358.20" width="8.3" height="1.10" fill="#00AA32" fill-opacity="0.15"/>
<path d="M384.45 364.85 V366.8" stroke="#333" stroke-width="0.55"/>
<text transform="translate(386.35 372.0) rotate(-61.5)" text-anchor="end" font-family='"Liberation Sans", sans-serif' font-size="4.9" fill="#4d4d4d">other organism</text>
<rect x="389.59" y="358.20" width="8.3" height="1.10" fill="#00AA32" fill-opacity="0.15"/>
<path d="M393.74 364.85 V366.8" stroke="#333" stroke-width="0.55"/>
<text transform="translate(395.64 372.0) rotate(-61.5)" text-anchor="end" font-family='"Liberation Sans", sans-serif' font-size="4.9" fill="#4d4d4d">other organism part</text>
<rect x="398.88" y="358.20" width="8.3" height="1.10" fill="#00AA32" fill-opacity="0.48"/>
<path d="M403.03 364.85 V366.8" stroke="#333" stroke-width="0.55"/>
<text transform="translate(404.93 372.0) rotate(-61.5)" text-anchor="end" font-family='"Liberation Sans", sans-serif' font-size="4.9" fill="#4d4d4d">synapse</text>
<rect x="408.17" y="358.20" width="8.3" height="1.10" fill="#00AA32" fill-opacity="0.48"/>
<path d="M412.32 364.85 V366.8" stroke="#333" stroke-width="0.55"/>
<text transform="translate(414.22 372.0) rotate(-61.5)" text-anchor="end" font-family='"Liberation Sans", sans-serif' font-size="4.9" fill="#4d4d4d">synapse part</text>
<rect x="417.46" y="358.20" width="8.3" height="1.10" fill="#00AA32" fill-opacity="0.48"/>
<path d="M421.61 364.85 V366.8" stroke="#333" stroke-width="0.55"/>
<text transform="translate(423.51 372.0) rotate(-61.5)" text-anchor="end" font-family='"Liberation Sans", sans-serif' font-size="4.9" fill="#4d4d4d">virion</text>
<rect x="426.75" y="358.20" width="8.3" height="1.10" fill="#00AA32" fill-opacity="0.48"/>
<path d="M430.90 364.85 V366.8" stroke="#333" stroke-width="0.55"/>
<text transform="translate(432.80 372.0) rotate(-61.5)" text-anchor="end" font-family='"Liberation Sans", sans-serif' font-size="4.9" fill="#4d4d4d">virion part</text>
<path d="M267.4 364.85 H436.48" stroke="#333" stroke-width="0.95"/>
<rect x="440.5" y="223.5" width="85.47" height="10.1" fill="#fff" stroke="#222" stroke-width="0.7"/>
<text x="483.23" y="230.6" text-anchor="middle" font-family='"Liberation Sans", sans-serif' font-size="5.25" fill="#1a1a1a">Molecular Function</text>
<rect x="441.92" y="358.20" width="8.3" height="1.10" fill="#3C8CD2" fill-opacity="0.62"/>
<path d="M446.07 364.85 V366.8" stroke="#333" stroke-width="0.55"/>
<text transform="translate(447.97 372.0) rotate(-61.5)" text-anchor="end" font-family='"Liberation Sans", sans-serif' font-size="4.9" fill="#4d4d4d">antioxidant activity</text>
<rect x="451.21" y="296.26" width="8.3" height="62.54" fill="#3C8CD2" fill-opacity="1.00"/>
<path d="M455.36 364.85 V366.8" stroke="#333" stroke-width="0.55"/>
<text transform="translate(457.26 372.0) rotate(-61.5)" text-anchor="end" font-family='"Liberation Sans", sans-serif' font-size="4.9" fill="#4d4d4d">binding</text>
<rect x="460.50" y="284.27" width="8.3" height="74.53" fill="#3C8CD2" fill-opacity="1.00"/>
<path d="M464.65 364.85 V366.8" stroke="#333" stroke-width="0.55"/>
<text transform="translate(466.55 372.0) rotate(-61.5)" text-anchor="end" font-family='"Liberation Sans", sans-serif' font-size="4.9" fill="#4d4d4d">catalytic activity</text>
<rect x="469.79" y="358.20" width="8.3" height="1.10" fill="#3C8CD2" fill-opacity="0.99"/>
<path d="M473.94 364.85 V366.8" stroke="#333" stroke-width="0.55"/>
<text transform="translate(475.84 372.0) rotate(-61.5)" text-anchor="end" font-family='"Liberation Sans", sans-serif' font-size="4.9" fill="#4d4d4d">molecular function regulator</text>
<rect x="479.08" y="358.20" width="8.3" height="1.10" fill="#3C8CD2" fill-opacity="0.55"/>
<path d="M483.23 364.85 V366.8" stroke="#333" stroke-width="0.55"/>
<text transform="translate(485.13 372.0) rotate(-61.5)" text-anchor="end" font-family='"Liberation Sans", sans-serif' font-size="4.9" fill="#4d4d4d">molecular transducer activity</text>
<rect x="488.37" y="358.20" width="8.3" height="1.10" fill="#3C8CD2" fill-opacity="0.40"/>
<path d="M492.52 364.85 V366.8" stroke="#333" stroke-width="0.55"/>
<text transform="translate(494.42 372.0) rotate(-61.5)" text-anchor="end" font-family='"Liberation Sans", sans-serif' font-size="4.9" fill="#4d4d4d">nucleic acid binding transcription factor activity</text>
<rect x="497.66" y="345.28" width="8.3" height="13.52" fill="#3C8CD2" fill-opacity="1.00"/>
<path d="M501.81 364.85 V366.8" stroke="#333" stroke-width="0.55"/>
<text transform="translate(503.71 372.0) rotate(-61.5)" text-anchor="end" font-family='"Liberation Sans", sans-serif' font-size="4.9" fill="#4d4d4d">structural molecule activity</text>
<rect x="506.95" y="358.20" width="8.3" height="1.10" fill="#3C8CD2" fill-opacity="0.15"/>
<path d="M511.10 364.85 V366.8" stroke="#333" stroke-width="0.55"/>
<text transform="translate(513.00 372.0) rotate(-61.5)" text-anchor="end" font-family='"Liberation Sans", sans-serif' font-size="4.9" fill="#4d4d4d">transcription factor activity, protein binding</text>
<rect x="516.24" y="353.86" width="8.3" height="4.94" fill="#3C8CD2" fill-opacity="1.00"/>
<path d="M520.39 364.85 V366.8" stroke="#333" stroke-width="0.55"/>
<text transform="translate(522.29 372.0) rotate(-61.5)" text-anchor="end" font-family='"Liberation Sans", sans-serif' font-size="4.9" fill="#4d4d4d">transporter activity</text>
<path d="M440.5 364.85 H525.97" stroke="#333" stroke-width="0.95"/>
<path d="M48 233.6 V365.3" stroke="#333" stroke-width="0.95"/>
<path d="M45.8 358.80 H47.6" stroke="#333" stroke-width="0.55"/>
<text x="44.8" y="360.60" text-anchor="end" font-family='"Liberation Sans", sans-serif' font-size="5.05" fill="#4d4d4d">0</text>
<path d="M45.8 332.40 H47.6" stroke="#333" stroke-width="0.55"/>
<text x="44.8" y="334.20" text-anchor="end" font-family='"Liberation Sans", sans-serif' font-size="5.05" fill="#4d4d4d">1000</text>
<path d="M45.8 306.00 H47.6" stroke="#333" stroke-width="0.55"/>
<text x="44.8" y="307.80" text-anchor="end" font-family='"Liberation Sans", sans-serif' font-size="5.05" fill="#4d4d4d">2000</text>
<path d="M45.8 279.60 H47.6" stroke="#333" stroke-width="0.55"/>
<text x="44.8" y="281.40" text-anchor="end" font-family='"Liberation Sans", sans-serif' font-size="5.05" fill="#4d4d4d">3000</text>
<path d="M45.8 253.20 H47.6" stroke="#333" stroke-width="0.55"/>
<text x="44.8" y="255.00" text-anchor="end" font-family='"Liberation Sans", sans-serif' font-size="5.05" fill="#4d4d4d">4000</text>
<text transform="translate(28.3 299) rotate(-90)" text-anchor="middle" font-family='"Liberation Sans", sans-serif' font-size="6.6" fill="#111">Number of genes</text>
</g>
</svg>
</body></html>
